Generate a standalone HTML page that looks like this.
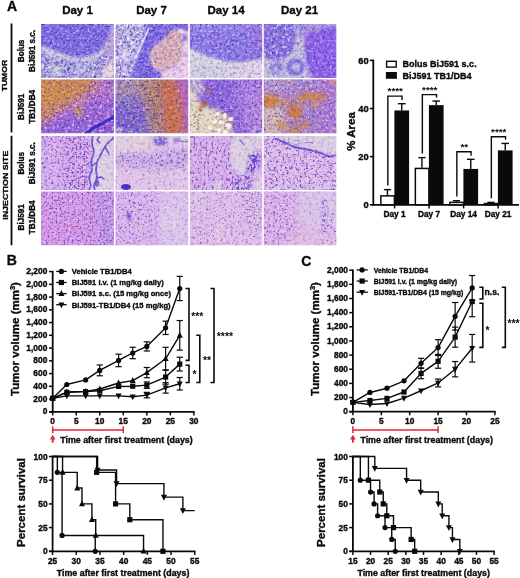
<!DOCTYPE html>
<html lang="en"><head><meta charset="utf-8"><title>Figure</title>
<style>html,body{margin:0;padding:0;background:#fff;}body{width:520px;height:578px;overflow:hidden;}svg{display:block;}text{font-family:'Liberation Sans', Arial, Helvetica, sans-serif;stroke:#0a0a0a;stroke-width:0.35px;stroke-linejoin:round;}text.st{stroke-width:0;}</style>
</head><body>
<svg width="520" height="578" viewBox="0 0 520 578">
<rect width="520" height="578" fill="#fff"/>
<defs><filter id="s0" x="-0.3" y="-0.3" width="1.6" height="1.6" color-interpolation-filters="sRGB"><feTurbulence type="fractalNoise" baseFrequency="0.26" numOctaves="2" seed="1" result="n"/><feColorMatrix in="n" type="matrix" values="0 0 0 0 0.894  0 0 0 0 0.910  0 0 0 0 0.918  6.0 0 0 0 -3.252" result="s"/><feGaussianBlur in="SourceAlpha" stdDeviation="0.1" result="m"/><feComposite in="s" in2="m" operator="in"/></filter><filter id="s1" x="-0.3" y="-0.3" width="1.6" height="1.6" color-interpolation-filters="sRGB"><feTurbulence type="fractalNoise" baseFrequency="0.34" numOctaves="2" seed="21" result="n"/><feColorMatrix in="n" type="matrix" values="0 0 0 0 0.463  0 0 0 0 0.392  0 0 0 0 0.816  6.0 0 0 0 -3.101" result="s"/><feGaussianBlur in="SourceAlpha" stdDeviation="0.1" result="m"/><feComposite in="s" in2="m" operator="in"/></filter><filter id="s2" x="-0.3" y="-0.3" width="1.6" height="1.6" color-interpolation-filters="sRGB"><feTurbulence type="fractalNoise" baseFrequency="0.5" numOctaves="2" seed="23" result="n"/><feColorMatrix in="n" type="matrix" values="0 0 0 0 0.290  0 0 0 0 0.235  0 0 0 0 0.596  6.0 0 0 0 -3.756" result="s"/><feGaussianBlur in="SourceAlpha" stdDeviation="0.1" result="m"/><feComposite in="s" in2="m" operator="in"/></filter><filter id="b3" x="-0.5" y="-0.5" width="2" height="2" color-interpolation-filters="sRGB"><feGaussianBlur stdDeviation="2"/></filter><filter id="b4" x="-0.5" y="-0.5" width="2" height="2" color-interpolation-filters="sRGB"><feGaussianBlur stdDeviation="2.2"/></filter><filter id="b5" x="-0.5" y="-0.5" width="2" height="2" color-interpolation-filters="sRGB"><feGaussianBlur stdDeviation="1.2"/></filter><filter id="b6" x="-0.5" y="-0.5" width="2" height="2" color-interpolation-filters="sRGB"><feGaussianBlur stdDeviation="1.0"/></filter><filter id="s7" x="-0.3" y="-0.3" width="1.6" height="1.6" color-interpolation-filters="sRGB"><feTurbulence type="fractalNoise" baseFrequency="0.5" numOctaves="2" seed="8" result="n"/><feColorMatrix in="n" type="matrix" values="0 0 0 0 0.314  0 0 0 0 0.220  0 0 0 0 0.722  6.0 0 0 0 -3.353" result="s"/><feGaussianBlur in="SourceAlpha" stdDeviation="0.8" result="m"/><feComposite in="s" in2="m" operator="in"/></filter><filter id="s8" x="-0.3" y="-0.3" width="1.6" height="1.6" color-interpolation-filters="sRGB"><feTurbulence type="fractalNoise" baseFrequency="0.4" numOctaves="2" seed="10" result="n"/><feColorMatrix in="n" type="matrix" values="0 0 0 0 0.643  0 0 0 0 0.580  0 0 0 0 0.973  6.0 0 0 0 -3.353" result="s"/><feGaussianBlur in="SourceAlpha" stdDeviation="0.8" result="m"/><feComposite in="s" in2="m" operator="in"/></filter><filter id="s9" x="-0.3" y="-0.3" width="1.6" height="1.6" color-interpolation-filters="sRGB"><feTurbulence type="fractalNoise" baseFrequency="0.26" numOctaves="2" seed="2" result="n"/><feColorMatrix in="n" type="matrix" values="0 0 0 0 0.933  0 0 0 0 0.929  0 0 0 0 0.984  6.0 0 0 0 -3.202" result="s"/><feGaussianBlur in="SourceAlpha" stdDeviation="0.1" result="m"/><feComposite in="s" in2="m" operator="in"/></filter><filter id="s10" x="-0.3" y="-0.3" width="1.6" height="1.6" color-interpolation-filters="sRGB"><feTurbulence type="fractalNoise" baseFrequency="0.36" numOctaves="2" seed="22" result="n"/><feColorMatrix in="n" type="matrix" values="0 0 0 0 0.455  0 0 0 0 0.392  0 0 0 0 0.784  6.0 0 0 0 -3.252" result="s"/><feGaussianBlur in="SourceAlpha" stdDeviation="0.1" result="m"/><feComposite in="s" in2="m" operator="in"/></filter><filter id="s11" x="-0.3" y="-0.3" width="1.6" height="1.6" color-interpolation-filters="sRGB"><feTurbulence type="fractalNoise" baseFrequency="0.5" numOctaves="2" seed="24" result="n"/><feColorMatrix in="n" type="matrix" values="0 0 0 0 0.282  0 0 0 0 0.220  0 0 0 0 0.565  6.0 0 0 0 -3.806" result="s"/><feGaussianBlur in="SourceAlpha" stdDeviation="0.1" result="m"/><feComposite in="s" in2="m" operator="in"/></filter><filter id="s12" x="-0.3" y="-0.3" width="1.6" height="1.6" color-interpolation-filters="sRGB"><feTurbulence type="fractalNoise" baseFrequency="0.5" numOctaves="2" seed="5" result="n"/><feColorMatrix in="n" type="matrix" values="0 0 0 0 0.314  0 0 0 0 0.220  0 0 0 0 0.722  6.0 0 0 0 -3.353" result="s"/><feGaussianBlur in="SourceAlpha" stdDeviation="0.8" result="m"/><feComposite in="s" in2="m" operator="in"/></filter><filter id="s13" x="-0.3" y="-0.3" width="1.6" height="1.6" color-interpolation-filters="sRGB"><feTurbulence type="fractalNoise" baseFrequency="0.4" numOctaves="2" seed="6" result="n"/><feColorMatrix in="n" type="matrix" values="0 0 0 0 0.627  0 0 0 0 0.565  0 0 0 0 0.957  6.0 0 0 0 -3.428" result="s"/><feGaussianBlur in="SourceAlpha" stdDeviation="0.8" result="m"/><feComposite in="s" in2="m" operator="in"/></filter><filter id="b14" x="-0.5" y="-0.5" width="2" height="2" color-interpolation-filters="sRGB"><feGaussianBlur stdDeviation="0.7"/></filter><filter id="b15" x="-0.5" y="-0.5" width="2" height="2" color-interpolation-filters="sRGB"><feGaussianBlur stdDeviation="1.4"/></filter><filter id="s16" x="-0.3" y="-0.3" width="1.6" height="1.6" color-interpolation-filters="sRGB"><feTurbulence type="fractalNoise" baseFrequency="0.4" numOctaves="2" seed="7" result="n"/><feColorMatrix in="n" type="matrix" values="0 0 0 0 0.722  0 0 0 0 0.549  0 0 0 0 0.580  6.0 0 0 0 -3.302" result="s"/><feGaussianBlur in="SourceAlpha" stdDeviation="1" result="m"/><feComposite in="s" in2="m" operator="in"/></filter><filter id="s17" x="-0.3" y="-0.3" width="1.6" height="1.6" color-interpolation-filters="sRGB"><feTurbulence type="fractalNoise" baseFrequency="0.4" numOctaves="2" seed="8" result="n"/><feColorMatrix in="n" type="matrix" values="0 0 0 0 0.941  0 0 0 0 0.816  0 0 0 0 0.863  6.0 0 0 0 -3.630" result="s"/><feGaussianBlur in="SourceAlpha" stdDeviation="1" result="m"/><feComposite in="s" in2="m" operator="in"/></filter><filter id="b18" x="-0.5" y="-0.5" width="2" height="2" color-interpolation-filters="sRGB"><feGaussianBlur stdDeviation="0.8"/></filter><filter id="b19" x="-0.5" y="-0.5" width="2" height="2" color-interpolation-filters="sRGB"><feGaussianBlur stdDeviation="4"/></filter><filter id="s20" x="-0.3" y="-0.3" width="1.6" height="1.6" color-interpolation-filters="sRGB"><feTurbulence type="fractalNoise" baseFrequency="0.4" numOctaves="2" seed="3" result="n"/><feColorMatrix in="n" type="matrix" values="0 0 0 0 0.659  0 0 0 0 0.627  0 0 0 0 0.816  6.0 0 0 0 -3.655" result="s"/><feGaussianBlur in="SourceAlpha" stdDeviation="0.5" result="m"/><feComposite in="s" in2="m" operator="in"/></filter><filter id="b21" x="-0.5" y="-0.5" width="2" height="2" color-interpolation-filters="sRGB"><feGaussianBlur stdDeviation="5"/></filter><filter id="s22" x="-0.3" y="-0.3" width="1.6" height="1.6" color-interpolation-filters="sRGB"><feTurbulence type="fractalNoise" baseFrequency="0.5" numOctaves="2" seed="6" result="n"/><feColorMatrix in="n" type="matrix" values="0 0 0 0 0.384  0 0 0 0 0.282  0 0 0 0 0.784  6.0 0 0 0 -3.353" result="s"/><feGaussianBlur in="SourceAlpha" stdDeviation="0.8" result="m"/><feComposite in="s" in2="m" operator="in"/></filter><filter id="s23" x="-0.3" y="-0.3" width="1.6" height="1.6" color-interpolation-filters="sRGB"><feTurbulence type="fractalNoise" baseFrequency="0.4" numOctaves="2" seed="8" result="n"/><feColorMatrix in="n" type="matrix" values="0 0 0 0 0.706  0 0 0 0 0.643  0 0 0 0 0.988  6.0 0 0 0 -3.353" result="s"/><feGaussianBlur in="SourceAlpha" stdDeviation="0.8" result="m"/><feComposite in="s" in2="m" operator="in"/></filter><filter id="s24" x="-0.3" y="-0.3" width="1.6" height="1.6" color-interpolation-filters="sRGB"><feTurbulence type="fractalNoise" baseFrequency="0.4" numOctaves="2" seed="4" result="n"/><feColorMatrix in="n" type="matrix" values="0 0 0 0 0.533  0 0 0 0 0.471  0 0 0 0 0.831  6.0 0 0 0 -3.504" result="s"/><feGaussianBlur in="SourceAlpha" stdDeviation="0.1" result="m"/><feComposite in="s" in2="m" operator="in"/></filter><filter id="s25" x="-0.3" y="-0.3" width="1.6" height="1.6" color-interpolation-filters="sRGB"><feTurbulence type="fractalNoise" baseFrequency="0.45" numOctaves="2" seed="6" result="n"/><feColorMatrix in="n" type="matrix" values="0 0 0 0 0.471  0 0 0 0 0.400  0 0 0 0 0.839  6.0 0 0 0 -3.252" result="s"/><feGaussianBlur in="SourceAlpha" stdDeviation="0.8" result="m"/><feComposite in="s" in2="m" operator="in"/></filter><filter id="b26" x="-0.5" y="-0.5" width="2" height="2" color-interpolation-filters="sRGB"><feGaussianBlur stdDeviation="1.5"/></filter><filter id="s27" x="-0.3" y="-0.3" width="1.6" height="1.6" color-interpolation-filters="sRGB"><feTurbulence type="fractalNoise" baseFrequency="0.33" numOctaves="2" seed="8" result="n"/><feColorMatrix in="n" type="matrix" values="0 0 0 0 0.800  0 0 0 0 0.776  0 0 0 0 0.918  6.0 0 0 0 -3.302" result="s"/><feGaussianBlur in="SourceAlpha" stdDeviation="0.8" result="m"/><feComposite in="s" in2="m" operator="in"/></filter><filter id="s28" x="-0.3" y="-0.3" width="1.6" height="1.6" color-interpolation-filters="sRGB"><feTurbulence type="fractalNoise" baseFrequency="0.5" numOctaves="2" seed="10" result="n"/><feColorMatrix in="n" type="matrix" values="0 0 0 0 0.361  0 0 0 0 0.267  0 0 0 0 0.784  6.0 0 0 0 -3.403" result="s"/><feGaussianBlur in="SourceAlpha" stdDeviation="0.8" result="m"/><feComposite in="s" in2="m" operator="in"/></filter><filter id="s29" x="-0.3" y="-0.3" width="1.6" height="1.6" color-interpolation-filters="sRGB"><feTurbulence type="fractalNoise" baseFrequency="0.5" numOctaves="2" seed="12" result="n"/><feColorMatrix in="n" type="matrix" values="0 0 0 0 0.376  0 0 0 0 0.220  0 0 0 0 0.816  6.0 0 0 0 -3.353" result="s"/><feGaussianBlur in="SourceAlpha" stdDeviation="0.8" result="m"/><feComposite in="s" in2="m" operator="in"/></filter><filter id="s30" x="-0.3" y="-0.3" width="1.6" height="1.6" color-interpolation-filters="sRGB"><feTurbulence type="fractalNoise" baseFrequency="0.4" numOctaves="2" seed="14" result="n"/><feColorMatrix in="n" type="matrix" values="0 0 0 0 0.706  0 0 0 0 0.549  0 0 0 0 0.980  6.0 0 0 0 -3.403" result="s"/><feGaussianBlur in="SourceAlpha" stdDeviation="0.8" result="m"/><feComposite in="s" in2="m" operator="in"/></filter><filter id="b31" x="-0.5" y="-0.5" width="2" height="2" color-interpolation-filters="sRGB"><feGaussianBlur stdDeviation="3"/></filter><filter id="s32" x="-0.3" y="-0.3" width="1.6" height="1.6" color-interpolation-filters="sRGB"><feTurbulence type="fractalNoise" baseFrequency="0.4" numOctaves="2" seed="8" result="n"/><feColorMatrix in="n" type="matrix" values="0 0 0 0 0.910  0 0 0 0 0.659  0 0 0 0 0.659  6.0 0 0 0 -3.504" result="s"/><feGaussianBlur in="SourceAlpha" stdDeviation="1.5" result="m"/><feComposite in="s" in2="m" operator="in"/></filter><filter id="s33" x="-0.3" y="-0.3" width="1.6" height="1.6" color-interpolation-filters="sRGB"><feTurbulence type="fractalNoise" baseFrequency="0.45" numOctaves="2" seed="9" result="n"/><feColorMatrix in="n" type="matrix" values="0 0 0 0 0.659  0 0 0 0 0.408  0 0 0 0 0.157  6.0 0 0 0 -3.428" result="s"/><feGaussianBlur in="SourceAlpha" stdDeviation="1.5" result="m"/><feComposite in="s" in2="m" operator="in"/></filter><filter id="s34" x="-0.3" y="-0.3" width="1.6" height="1.6" color-interpolation-filters="sRGB"><feTurbulence type="fractalNoise" baseFrequency="0.45" numOctaves="2" seed="10" result="n"/><feColorMatrix in="n" type="matrix" values="0 0 0 0 0.416  0 0 0 0 0.259  0 0 0 0 0.722  6.0 0 0 0 -3.353" result="s"/><feGaussianBlur in="SourceAlpha" stdDeviation="2" result="m"/><feComposite in="s" in2="m" operator="in"/></filter><filter id="s35" x="-0.3" y="-0.3" width="1.6" height="1.6" color-interpolation-filters="sRGB"><feTurbulence type="fractalNoise" baseFrequency="0.4" numOctaves="2" seed="13" result="n"/><feColorMatrix in="n" type="matrix" values="0 0 0 0 0.878  0 0 0 0 0.690  0 0 0 0 0.933  6.0 0 0 0 -3.353" result="s"/><feGaussianBlur in="SourceAlpha" stdDeviation="2" result="m"/><feComposite in="s" in2="m" operator="in"/></filter><filter id="b36" x="-0.5" y="-0.5" width="2" height="2" color-interpolation-filters="sRGB"><feGaussianBlur stdDeviation="3.5"/></filter><filter id="s37" x="-0.3" y="-0.3" width="1.6" height="1.6" color-interpolation-filters="sRGB"><feTurbulence type="fractalNoise" baseFrequency="0.42" numOctaves="2" seed="9" result="n"/><feColorMatrix in="n" type="matrix" values="0 0 0 0 0.753  0 0 0 0 0.627  0 0 0 0 0.439  6.0 0 0 0 -3.428" result="s"/><feGaussianBlur in="SourceAlpha" stdDeviation="2" result="m"/><feComposite in="s" in2="m" operator="in"/></filter><filter id="s38" x="-0.3" y="-0.3" width="1.6" height="1.6" color-interpolation-filters="sRGB"><feTurbulence type="fractalNoise" baseFrequency="0.45" numOctaves="2" seed="11" result="n"/><feColorMatrix in="n" type="matrix" values="0 0 0 0 0.345  0 0 0 0 0.251  0 0 0 0 0.643  6.0 0 0 0 -3.428" result="s"/><feGaussianBlur in="SourceAlpha" stdDeviation="2" result="m"/><feComposite in="s" in2="m" operator="in"/></filter><filter id="s39" x="-0.3" y="-0.3" width="1.6" height="1.6" color-interpolation-filters="sRGB"><feTurbulence type="fractalNoise" baseFrequency="0.4" numOctaves="2" seed="12" result="n"/><feColorMatrix in="n" type="matrix" values="0 0 0 0 0.737  0 0 0 0 0.651  0 0 0 0 0.894  6.0 0 0 0 -3.504" result="s"/><feGaussianBlur in="SourceAlpha" stdDeviation="2" result="m"/><feComposite in="s" in2="m" operator="in"/></filter><filter id="s40" x="-0.3" y="-0.3" width="1.6" height="1.6" color-interpolation-filters="sRGB"><feTurbulence type="fractalNoise" baseFrequency="0.42" numOctaves="2" seed="13" result="n"/><feColorMatrix in="n" type="matrix" values="0 0 0 0 0.722  0 0 0 0 0.376  0 0 0 0 0.659  6.0 0 0 0 -3.504" result="s"/><feGaussianBlur in="SourceAlpha" stdDeviation="2" result="m"/><feComposite in="s" in2="m" operator="in"/></filter><filter id="s41" x="-0.3" y="-0.3" width="1.6" height="1.6" color-interpolation-filters="sRGB"><feTurbulence type="fractalNoise" baseFrequency="0.36" numOctaves="2" seed="15" result="n"/><feColorMatrix in="n" type="matrix" values="0 0 0 0 0.847  0 0 0 0 0.471  0 0 0 0 0.282  6.0 0 0 0 -3.428" result="s"/><feGaussianBlur in="SourceAlpha" stdDeviation="2" result="m"/><feComposite in="s" in2="m" operator="in"/></filter><filter id="s42" x="-0.3" y="-0.3" width="1.6" height="1.6" color-interpolation-filters="sRGB"><feTurbulence type="fractalNoise" baseFrequency="0.4" numOctaves="2" seed="16" result="n"/><feColorMatrix in="n" type="matrix" values="0 0 0 0 0.878  0 0 0 0 0.627  0 0 0 0 0.627  6.0 0 0 0 -3.706" result="s"/><feGaussianBlur in="SourceAlpha" stdDeviation="2" result="m"/><feComposite in="s" in2="m" operator="in"/></filter><filter id="s43" x="-0.3" y="-0.3" width="1.6" height="1.6" color-interpolation-filters="sRGB"><feTurbulence type="fractalNoise" baseFrequency="0.45" numOctaves="2" seed="18" result="n"/><feColorMatrix in="n" type="matrix" values="0 0 0 0 0.627  0 0 0 0 0.361  0 0 0 0 0.157  6.0 0 0 0 -3.504" result="s"/><feGaussianBlur in="SourceAlpha" stdDeviation="3" result="m"/><feComposite in="s" in2="m" operator="in"/></filter><filter id="b44" x="-0.5" y="-0.5" width="2" height="2" color-interpolation-filters="sRGB"><feGaussianBlur stdDeviation="6"/></filter><filter id="s45" x="-0.3" y="-0.3" width="1.6" height="1.6" color-interpolation-filters="sRGB"><feTurbulence type="fractalNoise" baseFrequency="0.46" numOctaves="2" seed="10" result="n"/><feColorMatrix in="n" type="matrix" values="0 0 0 0 0.376  0 0 0 0 0.251  0 0 0 0 0.753  6.0 0 0 0 -3.403" result="s"/><feGaussianBlur in="SourceAlpha" stdDeviation="0.1" result="m"/><feComposite in="s" in2="m" operator="in"/></filter><filter id="s46" x="-0.3" y="-0.3" width="1.6" height="1.6" color-interpolation-filters="sRGB"><feTurbulence type="fractalNoise" baseFrequency="0.4" numOctaves="2" seed="12" result="n"/><feColorMatrix in="n" type="matrix" values="0 0 0 0 0.769  0 0 0 0 0.643  0 0 0 0 0.949  6.0 0 0 0 -3.428" result="s"/><feGaussianBlur in="SourceAlpha" stdDeviation="0.1" result="m"/><feComposite in="s" in2="m" operator="in"/></filter><filter id="s47" x="-0.3" y="-0.3" width="1.6" height="1.6" color-interpolation-filters="sRGB"><feTurbulence type="fractalNoise" baseFrequency="0.4" numOctaves="2" seed="13" result="n"/><feColorMatrix in="n" type="matrix" values="0 0 0 0 0.894  0 0 0 0 0.643  0 0 0 0 0.769  6.0 0 0 0 -3.706" result="s"/><feGaussianBlur in="SourceAlpha" stdDeviation="2" result="m"/><feComposite in="s" in2="m" operator="in"/></filter><filter id="b48" x="-0.5" y="-0.5" width="2" height="2" color-interpolation-filters="sRGB"><feGaussianBlur stdDeviation="0.6"/></filter><filter id="s49" x="-0.3" y="-0.3" width="1.6" height="1.6" color-interpolation-filters="sRGB"><feTurbulence type="fractalNoise" baseFrequency="0.42" numOctaves="2" seed="16" result="n"/><feColorMatrix in="n" type="matrix" values="0 0 0 0 0.659  0 0 0 0 0.580  0 0 0 0 0.424  6.0 0 0 0 -3.504" result="s"/><feGaussianBlur in="SourceAlpha" stdDeviation="1.5" result="m"/><feComposite in="s" in2="m" operator="in"/></filter><filter id="s50" x="-0.3" y="-0.3" width="1.6" height="1.6" color-interpolation-filters="sRGB"><feTurbulence type="fractalNoise" baseFrequency="0.45" numOctaves="2" seed="11" result="n"/><feColorMatrix in="n" type="matrix" values="0 0 0 0 0.455  0 0 0 0 0.314  0 0 0 0 0.769  6.0 0 0 0 -3.428" result="s"/><feGaussianBlur in="SourceAlpha" stdDeviation="0.1" result="m"/><feComposite in="s" in2="m" operator="in"/></filter><filter id="s51" x="-0.3" y="-0.3" width="1.6" height="1.6" color-interpolation-filters="sRGB"><feTurbulence type="fractalNoise" baseFrequency="0.4" numOctaves="2" seed="13" result="n"/><feColorMatrix in="n" type="matrix" values="0 0 0 0 0.863  0 0 0 0 0.737  0 0 0 0 0.894  6.0 0 0 0 -3.428" result="s"/><feGaussianBlur in="SourceAlpha" stdDeviation="0.1" result="m"/><feComposite in="s" in2="m" operator="in"/></filter><filter id="b52" x="-0.5" y="-0.5" width="2" height="2" color-interpolation-filters="sRGB"><feGaussianBlur stdDeviation="2.5"/></filter><filter id="s53" x="-0.3" y="-0.3" width="1.6" height="1.6" color-interpolation-filters="sRGB"><feTurbulence type="fractalNoise" baseFrequency="0.3" numOctaves="2" seed="17" result="n"/><feColorMatrix in="n" type="matrix" values="0 0 0 0 0.847  0 0 0 0 0.596  0 0 0 0 0.345  6.0 0 0 0 -3.655" result="s"/><feGaussianBlur in="SourceAlpha" stdDeviation="0.1" result="m"/><feComposite in="s" in2="m" operator="in"/></filter><filter id="s54" x="-0.3" y="-0.3" width="1.6" height="1.6" color-interpolation-filters="sRGB"><feTurbulence type="fractalNoise" baseFrequency="0.45" numOctaves="2" seed="12" result="n"/><feColorMatrix in="n" type="matrix" values="0 0 0 0 0.541  0 0 0 0 0.361  0 0 0 0 0.753  6.0 0 0 0 -3.353" result="s"/><feGaussianBlur in="SourceAlpha" stdDeviation="1" result="m"/><feComposite in="s" in2="m" operator="in"/></filter><filter id="s55" x="-0.3" y="-0.3" width="1.6" height="1.6" color-interpolation-filters="sRGB"><feTurbulence type="fractalNoise" baseFrequency="0.5" numOctaves="2" seed="15" result="n"/><feColorMatrix in="n" type="matrix" values="0 0 0 0 0.502  0 0 0 0 0.282  0 0 0 0 0.769  6.0 0 0 0 -3.202" result="s"/><feGaussianBlur in="SourceAlpha" stdDeviation="3" result="m"/><feComposite in="s" in2="m" operator="in"/></filter><filter id="b56" x="-0.5" y="-0.5" width="2" height="2" color-interpolation-filters="sRGB"><feGaussianBlur stdDeviation="0.5"/></filter><filter id="s57" x="-0.3" y="-0.3" width="1.6" height="1.6" color-interpolation-filters="sRGB"><feTurbulence type="fractalNoise" baseFrequency="0.45" numOctaves="2" seed="13" result="n"/><feColorMatrix in="n" type="matrix" values="0 0 0 0 0.518  0 0 0 0 0.322  0 0 0 0 0.784  6.0 0 0 0 -3.353" result="s"/><feGaussianBlur in="SourceAlpha" stdDeviation="1.5" result="m"/><feComposite in="s" in2="m" operator="in"/></filter><filter id="s58" x="-0.3" y="-0.3" width="1.6" height="1.6" color-interpolation-filters="sRGB"><feTurbulence type="fractalNoise" baseFrequency="0.42" numOctaves="2" seed="15" result="n"/><feColorMatrix in="n" type="matrix" values="0 0 0 0 0.596  0 0 0 0 0.471  0 0 0 0 0.839  6.0 0 0 0 -3.907" result="s"/><feGaussianBlur in="SourceAlpha" stdDeviation="1" result="m"/><feComposite in="s" in2="m" operator="in"/></filter><filter id="s59" x="-0.3" y="-0.3" width="1.6" height="1.6" color-interpolation-filters="sRGB"><feTurbulence type="fractalNoise" baseFrequency="0.4" numOctaves="2" seed="17" result="n"/><feColorMatrix in="n" type="matrix" values="0 0 0 0 0.863  0 0 0 0 0.831  0 0 0 0 0.925  6.0 0 0 0 -3.378" result="s"/><feGaussianBlur in="SourceAlpha" stdDeviation="0.5" result="m"/><feComposite in="s" in2="m" operator="in"/></filter><filter id="s60" x="-0.3" y="-0.3" width="1.6" height="1.6" color-interpolation-filters="sRGB"><feTurbulence type="fractalNoise" baseFrequency="0.5 0.28" numOctaves="2" seed="14" result="n"/><feColorMatrix in="n" type="matrix" values="0 0 0 0 0.525  0 0 0 0 0.314  0 0 0 0 0.776  6.0 0 0 0 -3.252" result="s"/><feGaussianBlur in="SourceAlpha" stdDeviation="1.5" result="m"/><feComposite in="s" in2="m" operator="in"/></filter><filter id="b61" x="-0.5" y="-0.5" width="2" height="2" color-interpolation-filters="sRGB"><feGaussianBlur stdDeviation="1.8"/></filter><filter id="s62" x="-0.3" y="-0.3" width="1.6" height="1.6" color-interpolation-filters="sRGB"><feTurbulence type="fractalNoise" baseFrequency="0.4" numOctaves="2" seed="22" result="n"/><feColorMatrix in="n" type="matrix" values="0 0 0 0 0.416  0 0 0 0 0.267  0 0 0 0 0.816  6.0 0 0 0 -2.698" result="s"/><feGaussianBlur in="SourceAlpha" stdDeviation="1.2" result="m"/><feComposite in="s" in2="m" operator="in"/></filter><filter id="s63" x="-0.3" y="-0.3" width="1.6" height="1.6" color-interpolation-filters="sRGB"><feTurbulence type="fractalNoise" baseFrequency="0.4" numOctaves="2" seed="23" result="n"/><feColorMatrix in="n" type="matrix" values="0 0 0 0 0.455  0 0 0 0 0.314  0 0 0 0 0.824  6.0 0 0 0 -2.698" result="s"/><feGaussianBlur in="SourceAlpha" stdDeviation="1.5" result="m"/><feComposite in="s" in2="m" operator="in"/></filter><filter id="s64" x="-0.3" y="-0.3" width="1.6" height="1.6" color-interpolation-filters="sRGB"><feTurbulence type="fractalNoise" baseFrequency="0.4" numOctaves="2" seed="18" result="n"/><feColorMatrix in="n" type="matrix" values="0 0 0 0 0.863  0 0 0 0 0.812  0 0 0 0 0.894  6.0 0 0 0 -3.378" result="s"/><feGaussianBlur in="SourceAlpha" stdDeviation="1" result="m"/><feComposite in="s" in2="m" operator="in"/></filter><filter id="b65" x="-0.5" y="-0.5" width="2" height="2" color-interpolation-filters="sRGB"><feGaussianBlur stdDeviation="0.4"/></filter><filter id="s66" x="-0.3" y="-0.3" width="1.6" height="1.6" color-interpolation-filters="sRGB"><feTurbulence type="fractalNoise" baseFrequency="0.46" numOctaves="2" seed="15" result="n"/><feColorMatrix in="n" type="matrix" values="0 0 0 0 0.533  0 0 0 0 0.314  0 0 0 0 0.776  6.0 0 0 0 -3.202" result="s"/><feGaussianBlur in="SourceAlpha" stdDeviation="0.1" result="m"/><feComposite in="s" in2="m" operator="in"/></filter><filter id="s67" x="-0.3" y="-0.3" width="1.6" height="1.6" color-interpolation-filters="sRGB"><feTurbulence type="fractalNoise" baseFrequency="0.4" numOctaves="2" seed="17" result="n"/><feColorMatrix in="n" type="matrix" values="0 0 0 0 0.925  0 0 0 0 0.847  0 0 0 0 0.941  6.0 0 0 0 -3.630" result="s"/><feGaussianBlur in="SourceAlpha" stdDeviation="0.1" result="m"/><feComposite in="s" in2="m" operator="in"/></filter><filter id="s68" x="-0.3" y="-0.3" width="1.6" height="1.6" color-interpolation-filters="sRGB"><feTurbulence type="fractalNoise" baseFrequency="0.5" numOctaves="2" seed="20" result="n"/><feColorMatrix in="n" type="matrix" values="0 0 0 0 0.431  0 0 0 0 0.298  0 0 0 0 0.824  6.0 0 0 0 -3.504" result="s"/><feGaussianBlur in="SourceAlpha" stdDeviation="0.8" result="m"/><feComposite in="s" in2="m" operator="in"/></filter><filter id="s69" x="-0.3" y="-0.3" width="1.6" height="1.6" color-interpolation-filters="sRGB"><feTurbulence type="fractalNoise" baseFrequency="0.5" numOctaves="2" seed="16" result="n"/><feColorMatrix in="n" type="matrix" values="0 0 0 0 0.541  0 0 0 0 0.345  0 0 0 0 0.769  6.0 0 0 0 -3.151" result="s"/><feGaussianBlur in="SourceAlpha" stdDeviation="0.1" result="m"/><feComposite in="s" in2="m" operator="in"/></filter><filter id="s70" x="-0.3" y="-0.3" width="1.6" height="1.6" color-interpolation-filters="sRGB"><feTurbulence type="fractalNoise" baseFrequency="0.42" numOctaves="2" seed="18" result="n"/><feColorMatrix in="n" type="matrix" values="0 0 0 0 0.910  0 0 0 0 0.737  0 0 0 0 0.973  6.0 0 0 0 -3.630" result="s"/><feGaussianBlur in="SourceAlpha" stdDeviation="0.1" result="m"/><feComposite in="s" in2="m" operator="in"/></filter><filter id="s71" x="-0.3" y="-0.3" width="1.6" height="1.6" color-interpolation-filters="sRGB"><feTurbulence type="fractalNoise" baseFrequency="0.45" numOctaves="2" seed="17" result="n"/><feColorMatrix in="n" type="matrix" values="0 0 0 0 0.525  0 0 0 0 0.345  0 0 0 0 0.753  6.0 0 0 0 -3.454" result="s"/><feGaussianBlur in="SourceAlpha" stdDeviation="3" result="m"/><feComposite in="s" in2="m" operator="in"/></filter><filter id="s72" x="-0.3" y="-0.3" width="1.6" height="1.6" color-interpolation-filters="sRGB"><feTurbulence type="fractalNoise" baseFrequency="0.45" numOctaves="2" seed="19" result="n"/><feColorMatrix in="n" type="matrix" values="0 0 0 0 0.596  0 0 0 0 0.471  0 0 0 0 0.831  6.0 0 0 0 -3.958" result="s"/><feGaussianBlur in="SourceAlpha" stdDeviation="2" result="m"/><feComposite in="s" in2="m" operator="in"/></filter><filter id="s73" x="-0.3" y="-0.3" width="1.6" height="1.6" color-interpolation-filters="sRGB"><feTurbulence type="fractalNoise" baseFrequency="0.45" numOctaves="2" seed="18" result="n"/><feColorMatrix in="n" type="matrix" values="0 0 0 0 0.565  0 0 0 0 0.392  0 0 0 0 0.722  6.0 0 0 0 -3.655" result="s"/><feGaussianBlur in="SourceAlpha" stdDeviation="0.1" result="m"/><feComposite in="s" in2="m" operator="in"/></filter><filter id="s74" x="-0.3" y="-0.3" width="1.6" height="1.6" color-interpolation-filters="sRGB"><feTurbulence type="fractalNoise" baseFrequency="0.45" numOctaves="2" seed="20" result="n"/><feColorMatrix in="n" type="matrix" values="0 0 0 0 0.541  0 0 0 0 0.337  0 0 0 0 0.776  6.0 0 0 0 -3.504" result="s"/><feGaussianBlur in="SourceAlpha" stdDeviation="2" result="m"/><feComposite in="s" in2="m" operator="in"/></filter><filter id="s75" x="-0.3" y="-0.3" width="1.6" height="1.6" color-interpolation-filters="sRGB"><feTurbulence type="fractalNoise" baseFrequency="0.45" numOctaves="2" seed="19" result="n"/><feColorMatrix in="n" type="matrix" values="0 0 0 0 0.541  0 0 0 0 0.337  0 0 0 0 0.776  6.0 0 0 0 -3.353" result="s"/><feGaussianBlur in="SourceAlpha" stdDeviation="2.5" result="m"/><feComposite in="s" in2="m" operator="in"/></filter><filter id="s76" x="-0.3" y="-0.3" width="1.6" height="1.6" color-interpolation-filters="sRGB"><feTurbulence type="fractalNoise" baseFrequency="0.45" numOctaves="2" seed="22" result="n"/><feColorMatrix in="n" type="matrix" values="0 0 0 0 0.518  0 0 0 0 0.322  0 0 0 0 0.784  6.0 0 0 0 -3.000" result="s"/><feGaussianBlur in="SourceAlpha" stdDeviation="1" result="m"/><feComposite in="s" in2="m" operator="in"/></filter><filter id="s77" x="-0.3" y="-0.3" width="1.6" height="1.6" color-interpolation-filters="sRGB"><feTurbulence type="fractalNoise" baseFrequency="0.45" numOctaves="2" seed="24" result="n"/><feColorMatrix in="n" type="matrix" values="0 0 0 0 0.518  0 0 0 0 0.322  0 0 0 0 0.784  6.0 0 0 0 -3.630" result="s"/><feGaussianBlur in="SourceAlpha" stdDeviation="1.5" result="m"/><feComposite in="s" in2="m" operator="in"/></filter><clipPath id="call"><rect x="41" y="24" width="73.0" height="54.0"/><rect x="115.5" y="24" width="72.7" height="54.0"/><rect x="189.9" y="24" width="72.3" height="54.0"/><rect x="263.8" y="24" width="72.5" height="54.0"/><rect x="41" y="79.6" width="73.0" height="53.6"/><rect x="115.5" y="79.6" width="72.7" height="53.6"/><rect x="189.9" y="79.6" width="72.3" height="53.6"/><rect x="263.8" y="79.6" width="72.5" height="53.6"/><rect x="41" y="135.9" width="73.0" height="54.1"/><rect x="115.5" y="135.9" width="72.7" height="54.1"/><rect x="189.9" y="135.9" width="72.3" height="54.1"/><rect x="263.8" y="135.9" width="72.5" height="54.1"/><rect x="41" y="191.4" width="73.0" height="53.8"/><rect x="115.5" y="191.4" width="72.7" height="53.8"/><rect x="189.9" y="191.4" width="72.3" height="53.8"/><rect x="263.8" y="191.4" width="72.5" height="53.8"/></clipPath><filter id="motd" x="0" y="0" width="1" height="1" color-interpolation-filters="sRGB"><feTurbulence type="fractalNoise" baseFrequency="0.33" numOctaves="3" seed="11" result="n"/><feColorMatrix in="n" type="matrix" values="0 0 0 0 0.30  0 0 0 0 0.14  0 0 0 0 0.62  3.2 0 0 0 -1.6"/></filter><filter id="motp" x="0" y="0" width="1" height="1" color-interpolation-filters="sRGB"><feTurbulence type="fractalNoise" baseFrequency="0.33" numOctaves="3" seed="17" result="n"/><feColorMatrix in="n" type="matrix" values="0 0 0 0 0.52  0 0 0 0 0.26  0 0 0 0 0.72  3.2 0 0 0 -1.6"/></filter><filter id="motl" x="0" y="0" width="1" height="1" color-interpolation-filters="sRGB"><feTurbulence type="fractalNoise" baseFrequency="0.3" numOctaves="3" seed="29" result="n"/><feColorMatrix in="n" type="matrix" values="0 0 0 0 1  0 0 0 0 0.96  0 0 0 0 1  0 3.2 0 0 -1.6"/></filter></defs>
<clipPath id="c00"><rect x="41" y="24" width="73.0" height="54.0"/></clipPath>
<g clip-path="url(#c00)"><g filter="url(#b14)">
<rect x="38" y="21" width="79.0" height="60.0" fill="#b0a8e2"/>
<polygon points="39.0,22.0 116.0,22.0 116.0,80.0 39.0,80.0" fill="#000" filter="url(#s0)"/>
<polygon points="39.0,22.0 116.0,22.0 116.0,80.0 39.0,80.0" fill="#000" filter="url(#s1)"/>
<polygon points="39.0,22.0 116.0,22.0 116.0,80.0 39.0,80.0" fill="#000" filter="url(#s2)"/>
<ellipse cx="50.0" cy="53.0" rx="5" ry="3" fill="#e2e6ea" filter="url(#b3)" opacity="0.9" transform="rotate(20 50.0 53.0)"/>
<ellipse cx="56.0" cy="71.0" rx="4" ry="6" fill="#e0e8e2" filter="url(#b3)" opacity="0.9"/>
<ellipse cx="81.0" cy="70.0" rx="6" ry="3" fill="#dfe4ec" filter="url(#b3)" opacity="0.8"/>
<polygon points="104.0,67.0 109.0,62.0 116.0,60.0 116.0,80.0 101.0,80.0" fill="#e8d8e0" filter="url(#b4)"/>
<polygon points="107.0,22.0 116.0,22.0 116.0,56.0 110.0,58.0 105.0,52.0 109.0,38.0" fill="#c0a0e0" filter="url(#b3)"/>
<polyline points="39.0,47.0 49.0,50.0 59.0,55.0 71.0,59.0 85.0,60.0 96.0,57.0 103.0,51.0" fill="none" stroke="#d4d6ea" stroke-width="3.0" stroke-linecap="round" stroke-linejoin="round" filter="url(#b5)"/>
<polygon points="38.0,21.0 112.0,21.0 109.5,32.0 105.0,42.0 98.0,50.0 89.0,55.0 79.0,56.5 68.0,54.5 56.0,50.0 47.0,46.5 38.0,44.0" fill="#7c68e0" filter="url(#b6)"/>
<polygon points="38.0,21.0 112.0,21.0 109.5,32.0 105.0,42.0 98.0,50.0 89.0,55.0 79.0,56.5 68.0,54.5 56.0,50.0 47.0,46.5 38.0,44.0" fill="#000" filter="url(#s7)"/>
<polygon points="38.0,21.0 112.0,21.0 109.5,32.0 105.0,42.0 98.0,50.0 89.0,55.0 79.0,56.5 68.0,54.5 56.0,50.0 47.0,46.5 38.0,44.0" fill="#000" filter="url(#s8)"/>
</g></g>
<clipPath id="c01"><rect x="115.5" y="24" width="72.7" height="54.0"/></clipPath>
<g clip-path="url(#c01)"><g filter="url(#b14)">
<rect x="112.5" y="21" width="78.7" height="60.0" fill="#bcb4e6"/>
<polygon points="113.5,22.0 190.5,22.0 190.5,80.0 113.5,80.0" fill="#000" filter="url(#s9)"/>
<polygon points="113.5,22.0 190.5,22.0 190.5,80.0 113.5,80.0" fill="#000" filter="url(#s10)"/>
<polygon points="113.5,22.0 190.5,22.0 190.5,80.0 113.5,80.0" fill="#000" filter="url(#s11)"/>
<ellipse cx="124.5" cy="55.0" rx="3.5" ry="7" fill="#eae8f2" filter="url(#b3)" opacity="0.95" transform="rotate(8 124.5 55.0)"/>
<polygon points="175.5,28.0 190.5,24.0 190.5,80.0 159.5,80.0 161.5,71.0 175.5,66.0 181.5,52.0" fill="#efcfec" filter="url(#b3)"/>
<polygon points="148.5,21.0 190.5,21.0 190.5,30.0 177.5,28.0 167.5,36.0 153.5,46.0 149.5,58.0 153.5,68.0 161.5,73.0 159.5,81.0 128.5,81.0 135.5,64.0 140.5,50.0 144.5,34.0" fill="#7a66e0" filter="url(#b5)"/>
<polygon points="148.5,21.0 190.5,21.0 190.5,30.0 177.5,28.0 167.5,36.0 153.5,46.0 149.5,58.0 153.5,68.0 161.5,73.0 159.5,81.0 128.5,81.0 135.5,64.0 140.5,50.0 144.5,34.0" fill="#000" filter="url(#s12)"/>
<polygon points="148.5,21.0 190.5,21.0 190.5,30.0 177.5,28.0 167.5,36.0 153.5,46.0 149.5,58.0 153.5,68.0 161.5,73.0 159.5,81.0 128.5,81.0 135.5,64.0 140.5,50.0 144.5,34.0" fill="#000" filter="url(#s13)"/>
<polyline points="148.5,29.0 143.5,40.0 139.5,49.0 135.5,58.0" fill="none" stroke="#eceaf6" stroke-width="1.6" stroke-linecap="round" stroke-linejoin="round" filter="url(#b14)"/>
<polygon points="171.5,30.0 177.5,31.0 182.5,36.0 182.5,52.0 177.5,65.0 167.5,70.0 157.5,70.0 150.5,63.0 149.5,53.0 156.5,46.0 165.5,39.0" fill="#dab0ba" filter="url(#b15)"/>
<polygon points="171.5,30.0 177.5,31.0 182.5,36.0 182.5,52.0 177.5,65.0 167.5,70.0 157.5,70.0 150.5,63.0 149.5,53.0 156.5,46.0 165.5,39.0" fill="#000" filter="url(#s16)"/>
<polygon points="171.5,30.0 177.5,31.0 182.5,36.0 182.5,52.0 177.5,65.0 167.5,70.0 157.5,70.0 150.5,63.0 149.5,53.0 156.5,46.0 165.5,39.0" fill="#000" filter="url(#s17)"/>
<ellipse cx="185.0" cy="38.0" rx="2.2" ry="3.5" fill="#8270d8" filter="url(#b6)"/>
<ellipse cx="186.5" cy="28.0" rx="3" ry="3" fill="#8270d8" filter="url(#b6)"/>
<ellipse cx="179.5" cy="70.0" rx="1.2" ry="1.2" fill="#9a80d8" filter="url(#b18)"/>
<ellipse cx="185.5" cy="55.0" rx="1.4" ry="1.8" fill="#9a80d8" filter="url(#b18)"/>
</g></g>
<clipPath id="c02"><rect x="189.9" y="24" width="72.3" height="54.0"/></clipPath>
<g clip-path="url(#c02)"><g filter="url(#b14)">
<rect x="186.9" y="21" width="78.3" height="60.0" fill="#dcdde4"/>
<polygon points="186.9,54.0 219.9,64.0 229.9,81.0 186.9,81.0" fill="#d2d3e2" filter="url(#b19)"/>
<polygon points="234.9,69.0 265.9,60.0 265.9,81.0 234.9,81.0" fill="#e2d2ea" filter="url(#b19)"/>
<polygon points="186.9,50.0 265.9,54.0 265.9,81.0 186.9,81.0" fill="#000" filter="url(#s20)"/>
<polygon points="186.9,21.0 265.9,21.0 265.9,57.5 253.9,60.0 243.9,61.5 231.9,62.5 219.9,59.5 205.9,55.5 195.9,50.5 186.9,47.0" fill="#8876e4" filter="url(#b5)"/>
<polygon points="186.9,21.0 265.9,21.0 265.9,29.0 229.9,32.0 186.9,30.0" fill="#a090e4" filter="url(#b19)" opacity="0.8"/>
<polygon points="251.9,24.0 265.9,24.0 265.9,54.0 253.9,54.0" fill="#a070dc" filter="url(#b21)" opacity="0.7"/>
<polygon points="186.9,21.0 265.9,21.0 265.9,57.5 253.9,60.0 243.9,61.5 231.9,62.5 219.9,59.5 205.9,55.5 195.9,50.5 186.9,47.0" fill="#000" filter="url(#s22)"/>
<polygon points="186.9,21.0 265.9,21.0 265.9,57.5 253.9,60.0 243.9,61.5 231.9,62.5 219.9,59.5 205.9,55.5 195.9,50.5 186.9,47.0" fill="#000" filter="url(#s23)"/>
</g></g>
<clipPath id="c03"><rect x="263.8" y="24" width="72.5" height="54.0"/></clipPath>
<g clip-path="url(#c03)"><g filter="url(#b14)">
<rect x="260.8" y="21" width="78.5" height="60.0" fill="#c8c4de"/>
<polygon points="261.8,22.0 338.8,22.0 338.8,80.0 261.8,80.0" fill="#000" filter="url(#s24)"/>
<polygon points="289.8,21.0 339.8,21.0 339.8,30.0 307.8,33.0 297.8,38.0" fill="#aa9ee0" filter="url(#b3)"/>
<polygon points="289.8,21.0 339.8,21.0 339.8,30.0 307.8,33.0 297.8,38.0" fill="#000" filter="url(#s25)"/>
<polygon points="260.8,21.0 291.8,21.0 295.8,34.0 294.8,44.0 290.8,53.0 281.8,60.0 271.8,60.0 260.8,56.0" fill="#846ee0" filter="url(#b26)"/>
<polygon points="260.8,21.0 291.8,21.0 295.8,34.0 294.8,44.0 290.8,53.0 281.8,60.0 271.8,60.0 260.8,56.0" fill="#000" filter="url(#s27)"/>
<polygon points="260.8,21.0 291.8,21.0 295.8,34.0 294.8,44.0 290.8,53.0 281.8,60.0 271.8,60.0 260.8,56.0" fill="#000" filter="url(#s28)"/>
<polygon points="307.8,32.0 321.8,29.0 339.8,26.0 339.8,81.0 311.8,81.0 306.8,64.0 304.8,48.0 304.8,37.0" fill="#8a60e6" filter="url(#b15)"/>
<polygon points="307.8,32.0 321.8,29.0 339.8,26.0 339.8,81.0 311.8,81.0 306.8,64.0 304.8,48.0 304.8,37.0" fill="#000" filter="url(#s29)"/>
<polygon points="307.8,32.0 321.8,29.0 339.8,26.0 339.8,81.0 311.8,81.0 306.8,64.0 304.8,48.0 304.8,37.0" fill="#000" filter="url(#s30)"/>
<ellipse cx="295.8" cy="67.0" rx="9" ry="8.5" fill="#7e6cdc" filter="url(#b6)"/>
<ellipse cx="296.3" cy="67.0" rx="4.5" ry="4" fill="#d2cee2" filter="url(#b5)"/>
<ellipse cx="295.8" cy="68.0" rx="1.8" ry="1.5" fill="#7e6cdc" filter="url(#b18)"/>
<polygon points="271.8,64.0 279.8,62.0 283.8,68.0 277.8,74.0 269.8,72.0" fill="#8878dc" filter="url(#b26)"/>
<ellipse cx="275.8" cy="69.0" rx="2.5" ry="2" fill="#d2cee2" filter="url(#b6)"/>
</g></g>
<clipPath id="c10"><rect x="41" y="79.6" width="73.0" height="53.6"/></clipPath>
<g clip-path="url(#c10)"><g filter="url(#b14)">
<rect x="38" y="76.6" width="79.0" height="59.6" fill="#a06cdc"/>
<polygon points="81.0,76.6 117.0,76.6 117.0,103.6 97.0,97.6 85.0,91.6" fill="#b878cc" filter="url(#b21)"/>
<polygon points="38.0,76.6 105.0,76.6 101.0,89.6 87.0,101.6 71.0,112.6 55.0,123.6 38.0,133.6" fill="#c880a8" filter="url(#b19)"/>
<polygon points="38.0,76.6 97.0,76.6 94.0,87.6 82.0,96.6 68.0,104.6 54.0,114.6 45.0,124.6 38.0,127.6" fill="#cf8a50" filter="url(#b31)"/>
<ellipse cx="49.0" cy="93.6" rx="10" ry="11" fill="#d89448" filter="url(#b31)" opacity="0.85"/>
<polygon points="38.0,127.6 61.0,113.6 81.0,115.6 93.0,123.6 81.0,136.6 38.0,136.6" fill="#8c64dc" filter="url(#b21)" opacity="0.8"/>
<polygon points="91.0,129.6 117.0,119.6 117.0,136.6 87.0,136.6" fill="#8c58d8" filter="url(#b19)" opacity="0.8"/>
<ellipse cx="79.0" cy="111.6" rx="4.5" ry="6" fill="#cc9460" filter="url(#b26)"/>
<ellipse cx="79.0" cy="110.6" rx="1.5" ry="3" fill="#d89a48" filter="url(#b6)"/>
<polygon points="38.0,76.6 99.0,76.6 95.0,89.6 67.0,107.6 38.0,129.6" fill="#000" filter="url(#s32)"/>
<polygon points="38.0,76.6 99.0,76.6 95.0,89.6 67.0,107.6 38.0,129.6" fill="#000" filter="url(#s33)"/>
<polygon points="38.0,136.6 38.0,115.6 61.0,103.6 87.0,89.6 91.0,76.6 117.0,76.6 117.0,136.6" fill="#000" filter="url(#s34)"/>
<polygon points="38.0,136.6 38.0,115.6 61.0,103.6 87.0,89.6 91.0,76.6 117.0,76.6 117.0,136.6" fill="#000" filter="url(#s35)"/>
<polyline points="117.0,115.6 109.0,119.6 101.0,124.1 93.0,128.1 85.0,134.6 83.0,136.6" fill="none" stroke="#3a2cc2" stroke-width="3.0" stroke-linecap="round" stroke-linejoin="round" filter="url(#b14)"/>
</g></g>
<clipPath id="c11"><rect x="115.5" y="79.6" width="72.7" height="53.6"/></clipPath>
<g clip-path="url(#c11)"><g filter="url(#b14)">
<rect x="112.5" y="76.6" width="78.7" height="59.6" fill="#8e78d0"/>
<polygon points="112.5,76.6 155.5,76.6 145.5,93.6 123.5,95.6 112.5,99.6" fill="#b09ab0" filter="url(#b21)"/>
<polygon points="112.5,103.6 131.5,101.6 145.5,115.6 149.5,136.6 112.5,136.6" fill="#7460dc" filter="url(#b21)" opacity="0.9"/>
<polygon points="177.5,76.6 191.5,76.6 191.5,136.6 177.5,136.6" fill="#bc68cc" filter="url(#b31)"/>
<polygon points="137.5,76.6 161.5,76.6 161.5,99.6 165.5,119.6 165.5,136.6 151.5,136.6 147.5,109.6" fill="#c09060" filter="url(#b19)" opacity="0.85"/>
<polygon points="157.5,76.6 176.5,76.6 180.5,97.6 183.0,117.6 181.5,136.6 165.5,136.6 162.5,115.6 160.0,97.6" fill="#cf7444" filter="url(#b36)"/>
<polygon points="171.5,76.6 191.5,76.6 191.5,87.6 177.5,87.6" fill="#ac6cd0" filter="url(#b31)" opacity="0.8"/>
<polygon points="112.5,76.6 161.5,76.6 165.5,136.6 112.5,136.6" fill="#000" filter="url(#s37)"/>
<polygon points="112.5,76.6 161.5,76.6 165.5,136.6 112.5,136.6" fill="#000" filter="url(#s38)"/>
<polygon points="112.5,76.6 161.5,76.6 165.5,136.6 112.5,136.6" fill="#000" filter="url(#s39)"/>
<polygon points="159.5,76.6 191.5,76.6 191.5,136.6 163.5,136.6" fill="#000" filter="url(#s40)"/>
<polygon points="159.5,76.6 179.5,76.6 183.5,136.6 163.5,136.6" fill="#000" filter="url(#s41)"/>
<polygon points="159.5,76.6 185.5,76.6 187.5,136.6 163.5,136.6" fill="#000" filter="url(#s42)"/>
<polygon points="139.5,76.6 183.5,76.6 185.5,136.6 149.5,136.6" fill="#000" filter="url(#s43)"/>
<ellipse cx="119.5" cy="130.1" rx="3.5" ry="2" fill="#e4d4d4" filter="url(#b5)"/>
</g></g>
<clipPath id="c12"><rect x="189.9" y="79.6" width="72.3" height="53.6"/></clipPath>
<g clip-path="url(#c12)"><g filter="url(#b14)">
<rect x="186.9" y="76.6" width="78.3" height="59.6" fill="#8c68e0"/>
<polygon points="235.9,76.6 265.9,76.6 265.9,136.6 245.9,136.6 237.9,109.6" fill="#b488e6" filter="url(#b44)" opacity="0.9"/>
<polygon points="257.9,89.6 265.9,89.6 265.9,136.6 257.9,136.6" fill="#d098d8" filter="url(#b19)" opacity="0.7"/>
<polygon points="187.9,77.6 264.9,77.6 264.9,135.6 187.9,135.6" fill="#000" filter="url(#s45)"/>
<polygon points="187.9,77.6 264.9,77.6 264.9,135.6 187.9,135.6" fill="#000" filter="url(#s46)"/>
<polygon points="235.9,76.6 265.9,76.6 265.9,136.6 241.9,136.6" fill="#000" filter="url(#s47)"/>
<polygon points="186.9,76.6 203.9,76.6 201.9,89.6 195.9,99.6 186.9,103.6" fill="#bcaccc" filter="url(#b31)"/>
<polygon points="186.9,87.6 193.9,91.6 198.9,101.6 207.9,107.6 217.9,109.6 225.9,115.6 231.9,125.6 232.9,136.6 186.9,136.6" fill="#e8dcc6" filter="url(#b4)"/>
<polyline points="191.9,77.6 195.9,87.6 201.9,93.6" fill="none" stroke="#dcd2e4" stroke-width="1.5" stroke-linecap="round" stroke-linejoin="round" filter="url(#b48)"/>
<polyline points="196.9,77.6 199.9,85.6 203.9,89.6" fill="none" stroke="#dcd2e4" stroke-width="1.5" stroke-linecap="round" stroke-linejoin="round" filter="url(#b48)"/>
<ellipse cx="216.9" cy="114.1" rx="3.4" ry="3.0" fill="#b8844c" filter="url(#b18)" opacity="0.4"/>
<ellipse cx="216.9" cy="114.1" rx="2.8" ry="2.4" fill="#f8f4e4" filter="url(#b14)"/>
<ellipse cx="224.4" cy="115.6" rx="3.0" ry="3.4" fill="#b8844c" filter="url(#b18)" opacity="0.4"/>
<ellipse cx="224.4" cy="115.6" rx="2.4" ry="2.8" fill="#f8f4e4" filter="url(#b14)"/>
<ellipse cx="230.9" cy="119.1" rx="3.2" ry="2.8000000000000003" fill="#b8844c" filter="url(#b18)" opacity="0.4"/>
<ellipse cx="230.9" cy="119.1" rx="2.6" ry="2.2" fill="#f8f4e4" filter="url(#b14)"/>
<ellipse cx="213.9" cy="121.1" rx="3.8000000000000003" ry="3.4" fill="#b8844c" filter="url(#b18)" opacity="0.4"/>
<ellipse cx="213.9" cy="121.1" rx="3.2" ry="2.8" fill="#f8f4e4" filter="url(#b14)"/>
<ellipse cx="221.4" cy="122.6" rx="3.2" ry="3.6" fill="#b8844c" filter="url(#b18)" opacity="0.4"/>
<ellipse cx="221.4" cy="122.6" rx="2.6" ry="3.0" fill="#f8f4e4" filter="url(#b14)"/>
<ellipse cx="228.4" cy="126.1" rx="3.8000000000000003" ry="3.4" fill="#b8844c" filter="url(#b18)" opacity="0.4"/>
<ellipse cx="228.4" cy="126.1" rx="3.2" ry="2.8" fill="#f8f4e4" filter="url(#b14)"/>
<ellipse cx="217.9" cy="130.1" rx="3.6" ry="3.2" fill="#b8844c" filter="url(#b18)" opacity="0.4"/>
<ellipse cx="217.9" cy="130.1" rx="3.0" ry="2.6" fill="#f8f4e4" filter="url(#b14)"/>
<ellipse cx="225.4" cy="132.6" rx="3.2" ry="3.2" fill="#b8844c" filter="url(#b18)" opacity="0.4"/>
<ellipse cx="225.4" cy="132.6" rx="2.6" ry="2.6" fill="#f8f4e4" filter="url(#b14)"/>
<ellipse cx="209.9" cy="127.6" rx="2.8000000000000003" ry="3.0" fill="#b8844c" filter="url(#b18)" opacity="0.4"/>
<ellipse cx="209.9" cy="127.6" rx="2.2" ry="2.4" fill="#f8f4e4" filter="url(#b14)"/>
<polygon points="186.9,99.6 203.9,109.6 205.9,136.6 186.9,136.6" fill="#000" filter="url(#s49)"/>
<ellipse cx="203.9" cy="103.6" rx="3.5" ry="2.5" fill="#b45e2e" filter="url(#b6)" transform="rotate(-30 203.9 103.6)"/>
<ellipse cx="208.4" cy="90.6" rx="1.5" ry="3" fill="#b8683a" filter="url(#b6)"/>
<ellipse cx="199.9" cy="109.6" rx="2" ry="2" fill="#c07840" filter="url(#b6)"/>
<ellipse cx="253.9" cy="128.6" rx="1.8" ry="1.8" fill="#ecd0dc" filter="url(#b6)"/>
</g></g>
<clipPath id="c13"><rect x="263.8" y="79.6" width="72.5" height="53.6"/></clipPath>
<g clip-path="url(#c13)"><g filter="url(#b14)">
<rect x="260.8" y="76.6" width="78.5" height="59.6" fill="#a684d4"/>
<polygon points="315.8,76.6 339.8,76.6 339.8,136.6 319.8,136.6" fill="#b078dc" filter="url(#b44)" opacity="0.85"/>
<polygon points="260.8,76.6 293.8,76.6 283.8,93.6 260.8,95.6" fill="#bca6d6" filter="url(#b21)" opacity="0.85"/>
<polygon points="260.8,101.6 273.8,99.6 283.8,109.6 285.8,123.6 281.8,136.6 260.8,136.6" fill="#d8c2b2" filter="url(#b19)"/>
<polygon points="261.8,77.6 338.8,77.6 338.8,135.6 261.8,135.6" fill="#000" filter="url(#s50)"/>
<polygon points="261.8,77.6 338.8,77.6 338.8,135.6 261.8,135.6" fill="#000" filter="url(#s51)"/>
<polyline points="261.8,103.6 277.8,101.6 293.8,103.6 307.8,96.6 323.8,95.6" fill="none" stroke="#d08c4c" stroke-width="7" stroke-linecap="round" stroke-linejoin="round" filter="url(#b31)" opacity="0.6"/>
<polyline points="293.8,109.6 297.8,123.6 293.8,135.6" fill="none" stroke="#d08c4c" stroke-width="6" stroke-linecap="round" stroke-linejoin="round" filter="url(#b31)" opacity="0.5"/>
<ellipse cx="270.8" cy="100.6" rx="8" ry="6" fill="#d2843c" filter="url(#b3)"/>
<ellipse cx="265.8" cy="103.6" rx="2.5" ry="3" fill="#c87838" filter="url(#b6)"/>
<ellipse cx="294.8" cy="112.1" rx="7.5" ry="5.5" fill="#d27c30" filter="url(#b3)"/>
<ellipse cx="305.8" cy="96.6" rx="6.5" ry="3.5" fill="#d28440" filter="url(#b3)" transform="rotate(-20 305.8 96.6)"/>
<ellipse cx="317.8" cy="97.1" rx="6.5" ry="3.5" fill="#d28440" filter="url(#b3)" transform="rotate(10 317.8 97.1)"/>
<ellipse cx="281.8" cy="125.6" rx="5" ry="4" fill="#d09258" filter="url(#b3)"/>
<ellipse cx="304.8" cy="124.6" rx="4.5" ry="4" fill="#d09258" filter="url(#b3)"/>
<ellipse cx="313.8" cy="105.6" rx="4" ry="3" fill="#d49668" filter="url(#b3)"/>
<ellipse cx="293.8" cy="131.6" rx="7" ry="4" fill="#d08c40" filter="url(#b52)" opacity="0.8"/>
<ellipse cx="333.8" cy="81.6" rx="5" ry="3" fill="#d89494" filter="url(#b3)"/>
<polygon points="261.8,77.6 338.8,77.6 338.8,135.6 261.8,135.6" fill="#000" filter="url(#s53)" opacity="0.8"/>
</g></g>
<clipPath id="c20"><rect x="41" y="135.9" width="73.0" height="54.1"/></clipPath>
<g clip-path="url(#c20)"><g filter="url(#b14)">
<rect x="38" y="132.9" width="79.0" height="60.1" fill="#d8b2ee"/>
<polygon points="38.0,132.9 93.0,132.9 93.0,192.9 38.0,192.9" fill="#000" filter="url(#s54)"/>
<polygon points="65.0,132.9 89.0,132.9 91.0,192.9 63.0,192.9" fill="#000" filter="url(#s55)"/>
<polygon points="91.0,132.9 117.0,132.9 117.0,192.9 87.0,192.9 90.0,175.9 92.0,155.9" fill="#dcd4e4" filter="url(#b26)"/>
<polygon points="111.0,132.9 117.0,132.9 117.0,192.9 112.0,192.9" fill="#e0c0e6" filter="url(#b3)" opacity="0.8"/>
<polyline points="93.0,133.9 92.0,143.9 94.0,151.9 91.0,161.9 92.0,169.9 89.0,177.9 91.0,185.9 88.0,191.9" fill="none" stroke="#6e52d4" stroke-width="1.8" stroke-linecap="round" stroke-linejoin="round" filter="url(#b56)"/>
<polyline points="117.0,134.9 109.0,141.9 105.0,146.9 101.0,153.9 97.0,161.9 96.0,169.9 97.0,177.9 94.0,185.9 95.0,191.9" fill="none" stroke="#6e52d4" stroke-width="1.8" stroke-linecap="round" stroke-linejoin="round" filter="url(#b56)"/>
<polyline points="105.0,146.9 108.0,151.9 109.0,154.9" fill="none" stroke="#6e52d4" stroke-width="1.6" stroke-linecap="round" stroke-linejoin="round" filter="url(#b56)"/>
<polyline points="97.0,161.9 92.0,165.9" fill="none" stroke="#6e52d4" stroke-width="1.6" stroke-linecap="round" stroke-linejoin="round" filter="url(#b56)"/>
<polyline points="97.0,177.9 101.0,176.9 104.0,178.9" fill="none" stroke="#6e52d4" stroke-width="1.5" stroke-linecap="round" stroke-linejoin="round" filter="url(#b56)"/>
<polyline points="99.0,136.9 97.0,139.9 100.0,142.9" fill="none" stroke="#6e52d4" stroke-width="1.5" stroke-linecap="round" stroke-linejoin="round" filter="url(#b56)"/>
<ellipse cx="97.0" cy="182.9" rx="2.2" ry="3.5" fill="#6e52d4" filter="url(#b48)"/>
</g></g>
<clipPath id="c21"><rect x="115.5" y="135.9" width="72.7" height="54.1"/></clipPath>
<g clip-path="url(#c21)"><g filter="url(#b14)">
<rect x="112.5" y="132.9" width="78.7" height="60.1" fill="#e2c8e8"/>
<polygon points="112.5,132.9 153.5,132.9 155.5,145.9 135.5,151.9 112.5,153.9" fill="#e0d0dc" filter="url(#b31)"/>
<polygon points="179.5,132.9 191.5,132.9 191.5,141.9 181.5,143.9" fill="#e2d6e4" filter="url(#b3)"/>
<polygon points="112.5,152.9 145.5,154.9 167.5,150.9 191.5,147.9 191.5,165.9 169.5,168.9 145.5,168.9 112.5,163.9" fill="#ccb0e6" filter="url(#b31)"/>
<polygon points="112.5,151.9 145.5,153.9 167.5,149.9 191.5,146.9 191.5,166.9 169.5,169.9 145.5,169.9 112.5,164.9" fill="#000" filter="url(#s57)"/>
<polygon points="112.5,165.9 191.5,165.9 191.5,192.9 112.5,192.9" fill="#000" filter="url(#s58)"/>
<polygon points="153.5,137.9 159.5,135.9 167.5,137.9 167.5,144.9 159.5,145.9 153.5,143.9" fill="#8068d4" filter="url(#b5)"/>
<polygon points="153.5,137.9 159.5,135.9 167.5,137.9 167.5,144.9 159.5,145.9 153.5,143.9" fill="#000" filter="url(#s59)"/>
<polygon points="172.5,139.9 177.5,137.9 179.5,139.9 175.5,142.9" fill="#8068d4" filter="url(#b6)"/>
<polyline points="179.5,140.9 185.5,141.9 191.5,139.9" fill="none" stroke="#8c70d4" stroke-width="1.2" stroke-linecap="round" stroke-linejoin="round" filter="url(#b56)"/>
<ellipse cx="126.0" cy="186.9" rx="5" ry="3" fill="#4030c8" filter="url(#b14)"/>
<ellipse cx="134.5" cy="188.9" rx="2.5" ry="1.5" fill="#e8dca8" filter="url(#b6)" opacity="0.7"/>
</g></g>
<clipPath id="c22"><rect x="189.9" y="135.9" width="72.3" height="54.1"/></clipPath>
<g clip-path="url(#c22)"><g filter="url(#b14)">
<rect x="186.9" y="132.9" width="78.3" height="60.1" fill="#d8b4ea"/>
<polygon points="186.9,132.9 233.9,132.9 231.9,155.9 239.9,179.9 265.9,175.9 265.9,192.9 186.9,192.9" fill="#000" filter="url(#s60)"/>
<polygon points="231.9,137.9 245.9,136.9 255.9,141.9 256.9,153.9 249.9,159.9 247.9,169.9 239.9,175.9 232.9,167.9 229.9,151.9" fill="#ddd2e2" filter="url(#b61)"/>
<polygon points="249.9,132.9 265.9,132.9 265.9,149.9 255.9,147.9" fill="#dccfe2" filter="url(#b3)"/>
<polygon points="247.9,155.9 252.9,151.9 258.9,149.9 261.9,155.9 259.9,166.9 252.9,172.9 245.9,170.9" fill="#000" filter="url(#s62)"/>
<polyline points="249.9,157.9 253.9,159.9 257.9,153.9" fill="none" stroke="#6a44d0" stroke-width="1.6" stroke-linecap="round" stroke-linejoin="round" filter="url(#b56)"/>
<polyline points="253.9,159.9 254.9,166.9 250.9,170.9" fill="none" stroke="#6a44d0" stroke-width="1.6" stroke-linecap="round" stroke-linejoin="round" filter="url(#b56)"/>
<polygon points="233.9,177.9 243.9,172.9 252.9,174.9 255.9,183.9 251.9,192.9 233.9,192.9" fill="#000" filter="url(#s63)"/>
<polygon points="233.9,171.9 255.9,171.9 255.9,192.9 233.9,192.9" fill="#000" filter="url(#s64)"/>
<ellipse cx="217.9" cy="185.9" rx="4" ry="5" fill="#decfe2" filter="url(#b5)"/>
<polygon points="253.9,177.9 265.9,173.9 265.9,192.9 251.9,192.9" fill="#e2cee4" filter="url(#b3)"/>
<polyline points="239.9,139.9 241.9,141.9 243.9,144.9" fill="none" stroke="#7658d0" stroke-width="1.2" stroke-linecap="round" stroke-linejoin="round" filter="url(#b65)"/>
</g></g>
<clipPath id="c23"><rect x="263.8" y="135.9" width="72.5" height="54.1"/></clipPath>
<g clip-path="url(#c23)"><g filter="url(#b14)">
<rect x="260.8" y="132.9" width="78.5" height="60.1" fill="#dcc0ea"/>
<polygon points="261.8,133.9 338.8,133.9 338.8,191.9 261.8,191.9" fill="#000" filter="url(#s66)"/>
<polygon points="261.8,133.9 338.8,133.9 338.8,191.9 261.8,191.9" fill="#000" filter="url(#s67)"/>
<polygon points="273.8,132.9 339.8,132.9 339.8,156.9 323.8,151.9 307.8,147.9 291.8,143.9 277.8,138.9" fill="#d8d0e2" filter="url(#b6)"/>
<polyline points="275.8,138.9 285.8,142.9 293.8,146.9 307.8,149.4 321.8,153.4 329.8,156.9 339.8,153.9" fill="none" stroke="#6e4cd2" stroke-width="2.0" stroke-linecap="round" stroke-linejoin="round" filter="url(#b56)"/>
<polygon points="277.8,135.9 313.8,141.9 313.8,147.9 277.8,141.9" fill="#000" filter="url(#s68)"/>
</g></g>
<clipPath id="c30"><rect x="41" y="191.4" width="73.0" height="53.8"/></clipPath>
<g clip-path="url(#c30)"><g filter="url(#b14)">
<rect x="38" y="188.4" width="79.0" height="59.8" fill="#d69ce8"/>
<polygon points="38.0,227.4 61.0,231.4 71.0,248.4 38.0,248.4" fill="#e09ce2" filter="url(#b44)" opacity="0.8"/>
<polygon points="97.0,188.4 117.0,188.4 117.0,248.4 101.0,248.4" fill="#b898ea" filter="url(#b44)" opacity="0.8"/>
<polygon points="39.0,189.4 116.0,189.4 116.0,247.4 39.0,247.4" fill="#000" filter="url(#s69)"/>
<polygon points="39.0,189.4 116.0,189.4 116.0,247.4 39.0,247.4" fill="#000" filter="url(#s70)"/>
<polyline points="65.0,226.4 69.0,224.9 73.0,226.4" fill="none" stroke="#e87aa0" stroke-width="1.2" stroke-linecap="round" stroke-linejoin="round" filter="url(#b48)"/>
</g></g>
<clipPath id="c31"><rect x="115.5" y="191.4" width="72.7" height="53.8"/></clipPath>
<g clip-path="url(#c31)"><g filter="url(#b14)">
<rect x="112.5" y="188.4" width="78.7" height="59.8" fill="#dab8ee"/>
<polygon points="155.5,188.4 191.5,188.4 191.5,248.4 159.5,248.4" fill="#dcc4ec" filter="url(#b21)"/>
<polygon points="112.5,188.4 159.5,188.4 155.5,248.4 112.5,248.4" fill="#000" filter="url(#s71)"/>
<polygon points="155.5,188.4 191.5,188.4 191.5,248.4 155.5,248.4" fill="#000" filter="url(#s72)"/>
<ellipse cx="171.5" cy="221.4" rx="10" ry="12" fill="#dccce8" filter="url(#b52)" transform="rotate(-20 171.5 221.4)"/>
<ellipse cx="129.0" cy="216.4" rx="1.8" ry="4.5" fill="#6a48d0" filter="url(#b18)" transform="rotate(-15 129.0 216.4)"/>
<ellipse cx="139.5" cy="229.4" rx="4" ry="3" fill="#dcc4c8" filter="url(#b3)" opacity="0.8"/>
<polyline points="191.5,223.4 181.5,233.4 173.5,241.4" fill="none" stroke="#e0d4ec" stroke-width="1.2" stroke-linecap="round" stroke-linejoin="round" filter="url(#b48)"/>
</g></g>
<clipPath id="c32"><rect x="189.9" y="191.4" width="72.3" height="53.8"/></clipPath>
<g clip-path="url(#c32)"><g filter="url(#b14)">
<rect x="186.9" y="188.4" width="78.3" height="59.8" fill="#dfc0ea"/>
<polygon points="186.9,188.4 213.9,188.4 203.9,207.4 186.9,211.4" fill="#dccae4" filter="url(#b21)"/>
<ellipse cx="218.9" cy="233.4" rx="8" ry="6" fill="#e4cee6" filter="url(#b31)"/>
<polygon points="187.9,189.4 264.9,189.4 264.9,247.4 187.9,247.4" fill="#000" filter="url(#s73)"/>
<polygon points="239.9,188.4 265.9,188.4 265.9,231.4 245.9,221.4" fill="#000" filter="url(#s74)"/>
</g></g>
<clipPath id="c33"><rect x="263.8" y="191.4" width="72.5" height="53.8"/></clipPath>
<g clip-path="url(#c33)"><g filter="url(#b14)">
<rect x="260.8" y="188.4" width="78.5" height="59.8" fill="#deb8e8"/>
<polygon points="260.8,188.4 299.8,188.4 293.8,221.4 303.8,248.4 260.8,248.4" fill="#000" filter="url(#s75)"/>
<polygon points="299.8,191.4 323.8,188.4 339.8,188.4 339.8,221.4 321.8,231.4 303.8,227.4 297.8,207.4" fill="#d8c6e8" filter="url(#b19)"/>
<polygon points="283.8,237.4 339.8,233.4 339.8,248.4 283.8,248.4" fill="#e0c6e4" filter="url(#b19)" opacity="0.8"/>
<polygon points="321.8,199.4 326.8,199.4 326.8,233.4 321.8,233.4" fill="#000" filter="url(#s76)"/>
<polygon points="327.8,211.4 339.8,211.4 339.8,248.4 313.8,248.4 315.8,235.4" fill="#000" filter="url(#s77)"/>
</g></g>
<g clip-path="url(#call)"><rect x="40" y="23" width="298" height="56.0" fill="#000" filter="url(#motd)" opacity="0.34"/><rect x="40" y="23" width="298" height="56.0" fill="#000" filter="url(#motl)" opacity="0.36"/><rect x="40" y="78.6" width="298" height="55.6" fill="#000" filter="url(#motd)" opacity="0.42"/><rect x="40" y="78.6" width="298" height="55.6" fill="#000" filter="url(#motl)" opacity="0.16"/><rect x="40" y="134.9" width="298" height="56.1" fill="#000" filter="url(#motp)" opacity="0.3"/><rect x="40" y="134.9" width="298" height="56.1" fill="#000" filter="url(#motl)" opacity="0.3"/><rect x="40" y="190.4" width="298" height="55.8" fill="#000" filter="url(#motp)" opacity="0.3"/><rect x="40" y="190.4" width="298" height="55.8" fill="#000" filter="url(#motl)" opacity="0.3"/></g>
<text x="6.9" y="11.4" font-size="14" text-anchor="start" font-weight="bold" fill="#0a0a0a">A</text>
<text x="77.5" y="13.8" font-size="11.5" text-anchor="middle" font-weight="bold" fill="#0a0a0a">Day 1</text>
<text x="151.5" y="13.8" font-size="11.5" text-anchor="middle" font-weight="bold" fill="#0a0a0a">Day 7</text>
<text x="226" y="13.8" font-size="11.5" text-anchor="middle" font-weight="bold" fill="#0a0a0a">Day 14</text>
<text x="299.5" y="13.8" font-size="11.5" text-anchor="middle" font-weight="bold" fill="#0a0a0a">Day 21</text>
<line x1="11.50" y1="23.50" x2="11.50" y2="132.50" stroke="#0a0a0a" stroke-width="1.8" stroke-linecap="butt"/>
<line x1="11.50" y1="135.80" x2="11.50" y2="245.20" stroke="#0a0a0a" stroke-width="1.8" stroke-linecap="butt"/>
<text x="7.3" y="75.6" font-size="8.0" text-anchor="middle" font-weight="bold" fill="#0a0a0a" transform="rotate(-90 7.3 75.6)" textLength="31.5" lengthAdjust="spacingAndGlyphs">TUMOR</text>
<text x="7.6" y="185.2" font-size="8.0" text-anchor="middle" font-weight="bold" fill="#0a0a0a" transform="rotate(-90 7.6 185.2)" textLength="69" lengthAdjust="spacingAndGlyphs">INJECTION SITE</text>
<text x="23.6" y="50.9" font-size="8.15" text-anchor="middle" font-weight="bold" fill="#0a0a0a" transform="rotate(-90 23.6 50.9)">Bolus</text>
<text x="34.6" y="50.9" font-size="8.15" text-anchor="middle" font-weight="bold" fill="#0a0a0a" transform="rotate(-90 34.6 50.9)">BiJ591 s.c.</text>
<text x="23.6" y="106.8" font-size="8.15" text-anchor="middle" font-weight="bold" fill="#0a0a0a" transform="rotate(-90 23.6 106.8)">BiJ591</text>
<text x="34.6" y="106.8" font-size="8.15" text-anchor="middle" font-weight="bold" fill="#0a0a0a" transform="rotate(-90 34.6 106.8)">TB1/DB4</text>
<text x="23.6" y="163.3" font-size="8.15" text-anchor="middle" font-weight="bold" fill="#0a0a0a" transform="rotate(-90 23.6 163.3)">Bolus</text>
<text x="34.6" y="163.3" font-size="8.15" text-anchor="middle" font-weight="bold" fill="#0a0a0a" transform="rotate(-90 34.6 163.3)">BiJ591 s.c.</text>
<text x="23.6" y="217.3" font-size="8.15" text-anchor="middle" font-weight="bold" fill="#0a0a0a" transform="rotate(-90 23.6 217.3)">BiJ591</text>
<text x="34.6" y="217.3" font-size="8.15" text-anchor="middle" font-weight="bold" fill="#0a0a0a" transform="rotate(-90 34.6 217.3)">TB1/DB4</text>
<line x1="373.30" y1="59.60" x2="373.30" y2="205.70" stroke="#0a0a0a" stroke-width="1.8" stroke-linecap="butt"/>
<line x1="372.40" y1="204.80" x2="519.00" y2="204.80" stroke="#0a0a0a" stroke-width="1.8" stroke-linecap="butt"/>
<line x1="369.80" y1="204.80" x2="373.30" y2="204.80" stroke="#0a0a0a" stroke-width="1.6" stroke-linecap="butt"/>
<text x="368.6" y="208.10000000000002" font-size="9.3" text-anchor="end" font-weight="bold" fill="#0a0a0a">0</text>
<line x1="369.80" y1="156.66" x2="373.30" y2="156.66" stroke="#0a0a0a" stroke-width="1.6" stroke-linecap="butt"/>
<text x="368.6" y="159.96000000000004" font-size="9.3" text-anchor="end" font-weight="bold" fill="#0a0a0a">20</text>
<line x1="369.80" y1="108.52" x2="373.30" y2="108.52" stroke="#0a0a0a" stroke-width="1.6" stroke-linecap="butt"/>
<text x="368.6" y="111.82000000000001" font-size="9.3" text-anchor="end" font-weight="bold" fill="#0a0a0a">40</text>
<line x1="369.80" y1="60.38" x2="373.30" y2="60.38" stroke="#0a0a0a" stroke-width="1.6" stroke-linecap="butt"/>
<text x="368.6" y="63.67999999999999" font-size="9.3" text-anchor="end" font-weight="bold" fill="#0a0a0a">60</text>
<text x="355.2" y="131.5" font-size="11.5" text-anchor="middle" font-weight="bold" fill="#0a0a0a" transform="rotate(-90 355.2 131.5)">% Area</text>
<rect x="386.6" y="61.3" width="9.6" height="5.8" fill="#fff" stroke="#0a0a0a" stroke-width="1.4"/>
<rect x="385.9" y="72" width="11" height="6.8" fill="#0a0a0a"/>
<text x="402.6" y="67.4" font-size="9.0" text-anchor="start" font-weight="bold" fill="#0a0a0a">Bolus BiJ591 s.c.</text>
<text x="402.6" y="78.9" font-size="9.0" text-anchor="start" font-weight="bold" fill="#0a0a0a">BiJ591 TB1/DB4</text>
<line x1="387.45" y1="195.17" x2="387.45" y2="189.64" stroke="#0a0a0a" stroke-width="1.4" stroke-linecap="butt"/>
<line x1="383.85" y1="189.64" x2="391.05" y2="189.64" stroke="#0a0a0a" stroke-width="1.4" stroke-linecap="butt"/>
<line x1="401.75" y1="110.45" x2="401.75" y2="103.71" stroke="#0a0a0a" stroke-width="1.4" stroke-linecap="butt"/>
<line x1="397.95" y1="103.71" x2="405.55" y2="103.71" stroke="#0a0a0a" stroke-width="1.4" stroke-linecap="butt"/>
<rect x="380.85" y="195.87" width="13.55" height="8.93" fill="#fff" stroke="#0a0a0a" stroke-width="1.5"/>
<rect x="394.40" y="110.45" width="14.70" height="94.35" fill="#0a0a0a"/>
<line x1="394.60" y1="204.80" x2="394.60" y2="208.40" stroke="#0a0a0a" stroke-width="1.5" stroke-linecap="butt"/>
<text x="394.59999999999997" y="217.0" font-size="8.3" text-anchor="middle" font-weight="bold" fill="#0a0a0a">Day 1</text>
<polyline points="387.85,185.44 387.85,96.10 402.05,96.10 402.05,100.11" fill="none" stroke="#0a0a0a" stroke-width="1.4" stroke-linejoin="miter"/>
<text x="395.24999999999994" y="94.0" font-size="9.9" text-anchor="middle" font-weight="bold" fill="#0a0a0a" class="st">****</text>
<line x1="421.95" y1="167.73" x2="421.95" y2="157.62" stroke="#0a0a0a" stroke-width="1.4" stroke-linecap="butt"/>
<line x1="418.35" y1="157.62" x2="425.55" y2="157.62" stroke="#0a0a0a" stroke-width="1.4" stroke-linecap="butt"/>
<line x1="436.25" y1="105.15" x2="436.25" y2="101.06" stroke="#0a0a0a" stroke-width="1.4" stroke-linecap="butt"/>
<line x1="432.45" y1="101.06" x2="440.05" y2="101.06" stroke="#0a0a0a" stroke-width="1.4" stroke-linecap="butt"/>
<rect x="415.35" y="168.43" width="13.55" height="36.37" fill="#fff" stroke="#0a0a0a" stroke-width="1.5"/>
<rect x="428.90" y="105.15" width="14.70" height="99.65" fill="#0a0a0a"/>
<line x1="429.10" y1="204.80" x2="429.10" y2="208.40" stroke="#0a0a0a" stroke-width="1.5" stroke-linecap="butt"/>
<text x="429.09999999999997" y="217.0" font-size="8.3" text-anchor="middle" font-weight="bold" fill="#0a0a0a">Day 7</text>
<polyline points="422.35,153.42 422.35,94.60 436.55,94.60 436.55,97.46" fill="none" stroke="#0a0a0a" stroke-width="1.4" stroke-linejoin="miter"/>
<text x="429.74999999999994" y="92.5" font-size="9.9" text-anchor="middle" font-weight="bold" fill="#0a0a0a" class="st">****</text>
<line x1="456.45" y1="201.67" x2="456.45" y2="200.71" stroke="#0a0a0a" stroke-width="1.4" stroke-linecap="butt"/>
<line x1="452.85" y1="200.71" x2="460.05" y2="200.71" stroke="#0a0a0a" stroke-width="1.4" stroke-linecap="butt"/>
<line x1="470.75" y1="168.94" x2="470.75" y2="159.31" stroke="#0a0a0a" stroke-width="1.4" stroke-linecap="butt"/>
<line x1="466.95" y1="159.31" x2="474.55" y2="159.31" stroke="#0a0a0a" stroke-width="1.4" stroke-linecap="butt"/>
<rect x="449.85" y="202.37" width="13.55" height="2.43" fill="#fff" stroke="#0a0a0a" stroke-width="1.5"/>
<rect x="463.40" y="168.94" width="14.70" height="35.86" fill="#0a0a0a"/>
<line x1="463.60" y1="204.80" x2="463.60" y2="208.40" stroke="#0a0a0a" stroke-width="1.5" stroke-linecap="butt"/>
<text x="463.59999999999997" y="217.0" font-size="8.3" text-anchor="middle" font-weight="bold" fill="#0a0a0a">Day 14</text>
<polyline points="456.85,196.51 456.85,151.80 471.05,151.80 471.05,155.71" fill="none" stroke="#0a0a0a" stroke-width="1.4" stroke-linejoin="miter"/>
<text x="464.24999999999994" y="149.7" font-size="9.9" text-anchor="middle" font-weight="bold" fill="#0a0a0a" class="st">**</text>
<line x1="490.95" y1="202.87" x2="490.95" y2="202.39" stroke="#0a0a0a" stroke-width="1.4" stroke-linecap="butt"/>
<line x1="487.35" y1="202.39" x2="494.55" y2="202.39" stroke="#0a0a0a" stroke-width="1.4" stroke-linecap="butt"/>
<line x1="505.25" y1="150.40" x2="505.25" y2="143.42" stroke="#0a0a0a" stroke-width="1.4" stroke-linecap="butt"/>
<line x1="501.45" y1="143.42" x2="509.05" y2="143.42" stroke="#0a0a0a" stroke-width="1.4" stroke-linecap="butt"/>
<rect x="484.35" y="203.57" width="13.55" height="1.23" fill="#fff" stroke="#0a0a0a" stroke-width="1.5"/>
<rect x="497.90" y="150.40" width="14.70" height="54.40" fill="#0a0a0a"/>
<line x1="498.10" y1="204.80" x2="498.10" y2="208.40" stroke="#0a0a0a" stroke-width="1.5" stroke-linecap="butt"/>
<text x="498.09999999999997" y="217.0" font-size="8.3" text-anchor="middle" font-weight="bold" fill="#0a0a0a">Day 21</text>
<polyline points="491.35,198.19 491.35,136.80 505.55,136.80 505.55,139.82" fill="none" stroke="#0a0a0a" stroke-width="1.4" stroke-linejoin="miter"/>
<text x="498.74999999999994" y="134.7" font-size="9.9" text-anchor="middle" font-weight="bold" fill="#0a0a0a" class="st">****</text>
<text x="6.8" y="265.4" font-size="14" text-anchor="start" font-weight="bold" fill="#0a0a0a">B</text>
<line x1="52.70" y1="270.79" x2="52.70" y2="412.60" stroke="#0a0a0a" stroke-width="1.8" stroke-linecap="butt"/>
<line x1="49.10" y1="411.80" x2="194.65" y2="411.80" stroke="#0a0a0a" stroke-width="1.8" stroke-linecap="butt"/>
<line x1="49.00" y1="411.80" x2="52.70" y2="411.80" stroke="#0a0a0a" stroke-width="1.5" stroke-linecap="butt"/>
<text x="47.3" y="414.40000000000003" font-size="8.4" text-anchor="end" font-weight="bold" fill="#0a0a0a">0</text>
<line x1="49.00" y1="399.05" x2="52.70" y2="399.05" stroke="#0a0a0a" stroke-width="1.5" stroke-linecap="butt"/>
<text x="47.3" y="401.65400000000005" font-size="8.4" text-anchor="end" font-weight="bold" fill="#0a0a0a">200</text>
<line x1="49.00" y1="386.31" x2="52.70" y2="386.31" stroke="#0a0a0a" stroke-width="1.5" stroke-linecap="butt"/>
<text x="47.3" y="388.908" font-size="8.4" text-anchor="end" font-weight="bold" fill="#0a0a0a">400</text>
<line x1="49.00" y1="373.56" x2="52.70" y2="373.56" stroke="#0a0a0a" stroke-width="1.5" stroke-linecap="butt"/>
<text x="47.3" y="376.16200000000003" font-size="8.4" text-anchor="end" font-weight="bold" fill="#0a0a0a">600</text>
<line x1="49.00" y1="360.82" x2="52.70" y2="360.82" stroke="#0a0a0a" stroke-width="1.5" stroke-linecap="butt"/>
<text x="47.3" y="363.41600000000005" font-size="8.4" text-anchor="end" font-weight="bold" fill="#0a0a0a">800</text>
<line x1="49.00" y1="348.07" x2="52.70" y2="348.07" stroke="#0a0a0a" stroke-width="1.5" stroke-linecap="butt"/>
<text x="47.3" y="350.67" font-size="8.4" text-anchor="end" font-weight="bold" fill="#0a0a0a">1,000</text>
<line x1="49.00" y1="335.32" x2="52.70" y2="335.32" stroke="#0a0a0a" stroke-width="1.5" stroke-linecap="butt"/>
<text x="47.3" y="337.92400000000004" font-size="8.4" text-anchor="end" font-weight="bold" fill="#0a0a0a">1,200</text>
<line x1="49.00" y1="322.58" x2="52.70" y2="322.58" stroke="#0a0a0a" stroke-width="1.5" stroke-linecap="butt"/>
<text x="47.3" y="325.17800000000005" font-size="8.4" text-anchor="end" font-weight="bold" fill="#0a0a0a">1,400</text>
<line x1="49.00" y1="309.83" x2="52.70" y2="309.83" stroke="#0a0a0a" stroke-width="1.5" stroke-linecap="butt"/>
<text x="47.3" y="312.432" font-size="8.4" text-anchor="end" font-weight="bold" fill="#0a0a0a">1,600</text>
<line x1="49.00" y1="297.09" x2="52.70" y2="297.09" stroke="#0a0a0a" stroke-width="1.5" stroke-linecap="butt"/>
<text x="47.3" y="299.68600000000004" font-size="8.4" text-anchor="end" font-weight="bold" fill="#0a0a0a">1,800</text>
<line x1="49.00" y1="284.34" x2="52.70" y2="284.34" stroke="#0a0a0a" stroke-width="1.5" stroke-linecap="butt"/>
<text x="47.3" y="286.94000000000005" font-size="8.4" text-anchor="end" font-weight="bold" fill="#0a0a0a">2,000</text>
<line x1="49.00" y1="271.59" x2="52.70" y2="271.59" stroke="#0a0a0a" stroke-width="1.5" stroke-linecap="butt"/>
<text x="47.3" y="274.1940000000001" font-size="8.4" text-anchor="end" font-weight="bold" fill="#0a0a0a">2,200</text>
<line x1="52.70" y1="411.80" x2="52.70" y2="415.40" stroke="#0a0a0a" stroke-width="1.5" stroke-linecap="butt"/>
<text x="52.7" y="424.4" font-size="8.4" text-anchor="middle" font-weight="bold" fill="#0a0a0a">0</text>
<line x1="76.22" y1="411.80" x2="76.22" y2="415.40" stroke="#0a0a0a" stroke-width="1.5" stroke-linecap="butt"/>
<text x="76.225" y="424.4" font-size="8.4" text-anchor="middle" font-weight="bold" fill="#0a0a0a">5</text>
<line x1="99.75" y1="411.80" x2="99.75" y2="415.40" stroke="#0a0a0a" stroke-width="1.5" stroke-linecap="butt"/>
<text x="99.75" y="424.4" font-size="8.4" text-anchor="middle" font-weight="bold" fill="#0a0a0a">10</text>
<line x1="123.28" y1="411.80" x2="123.28" y2="415.40" stroke="#0a0a0a" stroke-width="1.5" stroke-linecap="butt"/>
<text x="123.275" y="424.4" font-size="8.4" text-anchor="middle" font-weight="bold" fill="#0a0a0a">15</text>
<line x1="146.80" y1="411.80" x2="146.80" y2="415.40" stroke="#0a0a0a" stroke-width="1.5" stroke-linecap="butt"/>
<text x="146.8" y="424.4" font-size="8.4" text-anchor="middle" font-weight="bold" fill="#0a0a0a">20</text>
<line x1="170.32" y1="411.80" x2="170.32" y2="415.40" stroke="#0a0a0a" stroke-width="1.5" stroke-linecap="butt"/>
<text x="170.325" y="424.4" font-size="8.4" text-anchor="middle" font-weight="bold" fill="#0a0a0a">25</text>
<line x1="193.85" y1="411.80" x2="193.85" y2="415.40" stroke="#0a0a0a" stroke-width="1.5" stroke-linecap="butt"/>
<text x="193.85000000000002" y="424.4" font-size="8.4" text-anchor="middle" font-weight="bold" fill="#0a0a0a">30</text>
<text x="19.3" y="339" font-size="11.5" font-weight="bold" fill="#0a0a0a" text-anchor="middle" transform="rotate(-90 19.3 339)">Tumor volume (mm<tspan font-size="7.5" dy="-4">3</tspan><tspan dy="4">)</tspan></text>
<line x1="146.80" y1="392.36" x2="146.80" y2="397.84" stroke="#0a0a0a" stroke-width="1.2" stroke-linecap="butt"/>
<line x1="143.70" y1="392.36" x2="149.90" y2="392.36" stroke="#0a0a0a" stroke-width="1.2" stroke-linecap="butt"/>
<line x1="143.70" y1="397.84" x2="149.90" y2="397.84" stroke="#0a0a0a" stroke-width="1.2" stroke-linecap="butt"/>
<line x1="165.62" y1="382.68" x2="165.62" y2="393.13" stroke="#0a0a0a" stroke-width="1.2" stroke-linecap="butt"/>
<line x1="162.52" y1="382.68" x2="168.72" y2="382.68" stroke="#0a0a0a" stroke-width="1.2" stroke-linecap="butt"/>
<line x1="162.52" y1="393.13" x2="168.72" y2="393.13" stroke="#0a0a0a" stroke-width="1.2" stroke-linecap="butt"/>
<line x1="179.74" y1="377.51" x2="179.74" y2="390.00" stroke="#0a0a0a" stroke-width="1.2" stroke-linecap="butt"/>
<line x1="176.64" y1="377.51" x2="182.84" y2="377.51" stroke="#0a0a0a" stroke-width="1.2" stroke-linecap="butt"/>
<line x1="176.64" y1="390.00" x2="182.84" y2="390.00" stroke="#0a0a0a" stroke-width="1.2" stroke-linecap="butt"/>
<polyline points="52.70,398.29 66.81,395.87 85.64,395.87 99.75,395.87 118.57,395.87 132.69,396.70 146.80,395.10 165.62,387.90 179.74,383.76" fill="none" stroke="#0a0a0a" stroke-width="1.4" stroke-linejoin="round"/>
<polygon points="49.70,395.97 55.70,395.97 52.70,401.77" fill="#0a0a0a"/>
<polygon points="63.81,393.55 69.81,393.55 66.81,399.35" fill="#0a0a0a"/>
<polygon points="82.64,393.55 88.64,393.55 85.64,399.35" fill="#0a0a0a"/>
<polygon points="96.75,393.55 102.75,393.55 99.75,399.35" fill="#0a0a0a"/>
<polygon points="115.57,393.55 121.57,393.55 118.57,399.35" fill="#0a0a0a"/>
<polygon points="129.69,394.38 135.69,394.38 132.69,400.18" fill="#0a0a0a"/>
<polygon points="143.80,392.78 149.80,392.78 146.80,398.58" fill="#0a0a0a"/>
<polygon points="162.62,385.58 168.62,385.58 165.62,391.38" fill="#0a0a0a"/>
<polygon points="176.74,381.44 182.74,381.44 179.74,387.24" fill="#0a0a0a"/>
<line x1="146.80" y1="381.97" x2="146.80" y2="388.35" stroke="#0a0a0a" stroke-width="1.2" stroke-linecap="butt"/>
<line x1="143.70" y1="381.97" x2="149.90" y2="381.97" stroke="#0a0a0a" stroke-width="1.2" stroke-linecap="butt"/>
<line x1="143.70" y1="388.35" x2="149.90" y2="388.35" stroke="#0a0a0a" stroke-width="1.2" stroke-linecap="butt"/>
<line x1="165.62" y1="369.93" x2="165.62" y2="384.20" stroke="#0a0a0a" stroke-width="1.2" stroke-linecap="butt"/>
<line x1="162.52" y1="369.93" x2="168.72" y2="369.93" stroke="#0a0a0a" stroke-width="1.2" stroke-linecap="butt"/>
<line x1="162.52" y1="384.20" x2="168.72" y2="384.20" stroke="#0a0a0a" stroke-width="1.2" stroke-linecap="butt"/>
<line x1="179.74" y1="357.25" x2="179.74" y2="371.01" stroke="#0a0a0a" stroke-width="1.2" stroke-linecap="butt"/>
<line x1="176.64" y1="357.25" x2="182.84" y2="357.25" stroke="#0a0a0a" stroke-width="1.2" stroke-linecap="butt"/>
<line x1="176.64" y1="371.01" x2="182.84" y2="371.01" stroke="#0a0a0a" stroke-width="1.2" stroke-linecap="butt"/>
<polyline points="52.70,398.29 66.81,392.30 85.64,391.66 99.75,390.77 118.57,386.44 132.69,386.18 146.80,385.16 165.62,377.07 179.74,364.13" fill="none" stroke="#0a0a0a" stroke-width="1.4" stroke-linejoin="round"/>
<rect x="50.10" y="395.69" width="5.20" height="5.20" fill="#0a0a0a"/>
<rect x="64.22" y="389.70" width="5.20" height="5.20" fill="#0a0a0a"/>
<rect x="83.04" y="389.06" width="5.20" height="5.20" fill="#0a0a0a"/>
<rect x="97.15" y="388.17" width="5.20" height="5.20" fill="#0a0a0a"/>
<rect x="115.97" y="383.84" width="5.20" height="5.20" fill="#0a0a0a"/>
<rect x="130.09" y="383.58" width="5.20" height="5.20" fill="#0a0a0a"/>
<rect x="144.20" y="382.56" width="5.20" height="5.20" fill="#0a0a0a"/>
<rect x="163.02" y="374.47" width="5.20" height="5.20" fill="#0a0a0a"/>
<rect x="177.14" y="361.53" width="5.20" height="5.20" fill="#0a0a0a"/>
<line x1="146.80" y1="367.51" x2="146.80" y2="377.70" stroke="#0a0a0a" stroke-width="1.2" stroke-linecap="butt"/>
<line x1="143.70" y1="367.51" x2="149.90" y2="367.51" stroke="#0a0a0a" stroke-width="1.2" stroke-linecap="butt"/>
<line x1="143.70" y1="377.70" x2="149.90" y2="377.70" stroke="#0a0a0a" stroke-width="1.2" stroke-linecap="butt"/>
<line x1="165.62" y1="347.31" x2="165.62" y2="370.25" stroke="#0a0a0a" stroke-width="1.2" stroke-linecap="butt"/>
<line x1="162.52" y1="347.31" x2="168.72" y2="347.31" stroke="#0a0a0a" stroke-width="1.2" stroke-linecap="butt"/>
<line x1="162.52" y1="370.25" x2="168.72" y2="370.25" stroke="#0a0a0a" stroke-width="1.2" stroke-linecap="butt"/>
<line x1="179.74" y1="320.54" x2="179.74" y2="350.11" stroke="#0a0a0a" stroke-width="1.2" stroke-linecap="butt"/>
<line x1="176.64" y1="320.54" x2="182.84" y2="320.54" stroke="#0a0a0a" stroke-width="1.2" stroke-linecap="butt"/>
<line x1="176.64" y1="350.11" x2="182.84" y2="350.11" stroke="#0a0a0a" stroke-width="1.2" stroke-linecap="butt"/>
<polyline points="52.70,398.29 66.81,392.04 85.64,391.41 99.75,388.98 118.57,382.99 132.69,380.57 146.80,372.61 165.62,358.78 179.74,335.32" fill="none" stroke="#0a0a0a" stroke-width="1.4" stroke-linejoin="round"/>
<polygon points="49.70,400.61 55.70,400.61 52.70,394.81" fill="#0a0a0a"/>
<polygon points="63.81,394.36 69.81,394.36 66.81,388.56" fill="#0a0a0a"/>
<polygon points="82.64,393.73 88.64,393.73 85.64,387.93" fill="#0a0a0a"/>
<polygon points="96.75,391.30 102.75,391.30 99.75,385.50" fill="#0a0a0a"/>
<polygon points="115.57,385.31 121.57,385.31 118.57,379.51" fill="#0a0a0a"/>
<polygon points="129.69,382.89 135.69,382.89 132.69,377.09" fill="#0a0a0a"/>
<polygon points="143.80,374.93 149.80,374.93 146.80,369.13" fill="#0a0a0a"/>
<polygon points="162.62,361.10 168.62,361.10 165.62,355.30" fill="#0a0a0a"/>
<polygon points="176.74,337.64 182.74,337.64 179.74,331.84" fill="#0a0a0a"/>
<line x1="99.75" y1="364.96" x2="99.75" y2="375.79" stroke="#0a0a0a" stroke-width="1.2" stroke-linecap="butt"/>
<line x1="96.65" y1="364.96" x2="102.85" y2="364.96" stroke="#0a0a0a" stroke-width="1.2" stroke-linecap="butt"/>
<line x1="96.65" y1="375.79" x2="102.85" y2="375.79" stroke="#0a0a0a" stroke-width="1.2" stroke-linecap="butt"/>
<line x1="118.57" y1="354.19" x2="118.57" y2="366.68" stroke="#0a0a0a" stroke-width="1.2" stroke-linecap="butt"/>
<line x1="115.47" y1="354.19" x2="121.67" y2="354.19" stroke="#0a0a0a" stroke-width="1.2" stroke-linecap="butt"/>
<line x1="115.47" y1="366.68" x2="121.67" y2="366.68" stroke="#0a0a0a" stroke-width="1.2" stroke-linecap="butt"/>
<line x1="132.69" y1="347.24" x2="132.69" y2="358.71" stroke="#0a0a0a" stroke-width="1.2" stroke-linecap="butt"/>
<line x1="129.59" y1="347.24" x2="135.78" y2="347.24" stroke="#0a0a0a" stroke-width="1.2" stroke-linecap="butt"/>
<line x1="129.59" y1="358.71" x2="135.78" y2="358.71" stroke="#0a0a0a" stroke-width="1.2" stroke-linecap="butt"/>
<line x1="146.80" y1="341.82" x2="146.80" y2="351.00" stroke="#0a0a0a" stroke-width="1.2" stroke-linecap="butt"/>
<line x1="143.70" y1="341.82" x2="149.90" y2="341.82" stroke="#0a0a0a" stroke-width="1.2" stroke-linecap="butt"/>
<line x1="143.70" y1="351.00" x2="149.90" y2="351.00" stroke="#0a0a0a" stroke-width="1.2" stroke-linecap="butt"/>
<line x1="165.62" y1="321.11" x2="165.62" y2="334.50" stroke="#0a0a0a" stroke-width="1.2" stroke-linecap="butt"/>
<line x1="162.52" y1="321.11" x2="168.72" y2="321.11" stroke="#0a0a0a" stroke-width="1.2" stroke-linecap="butt"/>
<line x1="162.52" y1="334.50" x2="168.72" y2="334.50" stroke="#0a0a0a" stroke-width="1.2" stroke-linecap="butt"/>
<line x1="179.74" y1="276.37" x2="179.74" y2="300.59" stroke="#0a0a0a" stroke-width="1.2" stroke-linecap="butt"/>
<line x1="176.64" y1="276.37" x2="182.84" y2="276.37" stroke="#0a0a0a" stroke-width="1.2" stroke-linecap="butt"/>
<line x1="176.64" y1="300.59" x2="182.84" y2="300.59" stroke="#0a0a0a" stroke-width="1.2" stroke-linecap="butt"/>
<polyline points="52.70,398.29 66.81,384.52 85.64,379.94 99.75,370.38 118.57,360.43 132.69,352.98 146.80,346.41 165.62,327.80 179.74,288.48" fill="none" stroke="#0a0a0a" stroke-width="1.4" stroke-linejoin="round"/>
<circle cx="52.70" cy="398.29" r="2.60" fill="#0a0a0a"/>
<circle cx="66.81" cy="384.52" r="2.60" fill="#0a0a0a"/>
<circle cx="85.64" cy="379.94" r="2.60" fill="#0a0a0a"/>
<circle cx="99.75" cy="370.38" r="2.60" fill="#0a0a0a"/>
<circle cx="118.57" cy="360.43" r="2.60" fill="#0a0a0a"/>
<circle cx="132.69" cy="352.98" r="2.60" fill="#0a0a0a"/>
<circle cx="146.80" cy="346.41" r="2.60" fill="#0a0a0a"/>
<circle cx="165.62" cy="327.80" r="2.60" fill="#0a0a0a"/>
<circle cx="179.74" cy="288.48" r="2.60" fill="#0a0a0a"/>
<line x1="56.20" y1="271.40" x2="66.60" y2="271.40" stroke="#0a0a0a" stroke-width="1.3" stroke-linecap="butt"/>
<circle cx="61.40" cy="271.40" r="2.60" fill="#0a0a0a"/>
<text x="71.8" y="274.2" font-size="7.6" text-anchor="start" font-weight="bold" fill="#0a0a0a">Vehicle TB1/DB4</text>
<line x1="56.20" y1="282.50" x2="66.60" y2="282.50" stroke="#0a0a0a" stroke-width="1.3" stroke-linecap="butt"/>
<rect x="58.80" y="279.90" width="5.20" height="5.20" fill="#0a0a0a"/>
<text x="71.8" y="285.3" font-size="7.6" text-anchor="start" font-weight="bold" fill="#0a0a0a">BiJ591 i.v. (1 mg/kg daily)</text>
<line x1="56.20" y1="293.60" x2="66.60" y2="293.60" stroke="#0a0a0a" stroke-width="1.3" stroke-linecap="butt"/>
<polygon points="58.40,295.92 64.40,295.92 61.40,290.12" fill="#0a0a0a"/>
<text x="71.8" y="296.4" font-size="7.6" text-anchor="start" font-weight="bold" fill="#0a0a0a">BiJ591 s.c. (15 mg/kg once)</text>
<line x1="56.20" y1="304.70" x2="66.60" y2="304.70" stroke="#0a0a0a" stroke-width="1.3" stroke-linecap="butt"/>
<polygon points="58.40,302.38 64.40,302.38 61.40,308.18" fill="#0a0a0a"/>
<text x="71.8" y="307.5" font-size="7.6" text-anchor="start" font-weight="bold" fill="#0a0a0a">BiJ591-TB1/DB4 (15 mg/kg)</text>
<polyline points="185.50,288.50 189.00,288.50 189.00,360.40 185.50,360.40" fill="none" stroke="#0a0a0a" stroke-width="1.6" stroke-linejoin="miter"/>
<text x="191.2" y="320.4" font-size="10.4" text-anchor="start" font-weight="bold" fill="#0a0a0a" class="st">***</text>
<polyline points="185.50,365.20 189.00,365.20 189.00,382.50 185.50,382.50" fill="none" stroke="#0a0a0a" stroke-width="1.6" stroke-linejoin="miter"/>
<text x="192.4" y="377.9" font-size="10.4" text-anchor="start" font-weight="bold" fill="#0a0a0a" class="st">*</text>
<polyline points="196.30,335.20 199.80,335.20 199.80,382.50 196.30,382.50" fill="none" stroke="#0a0a0a" stroke-width="1.6" stroke-linejoin="miter"/>
<text x="203.0" y="363.9" font-size="10.4" text-anchor="start" font-weight="bold" fill="#0a0a0a" class="st">**</text>
<polyline points="210.50,288.50 214.00,288.50 214.00,382.50 210.50,382.50" fill="none" stroke="#0a0a0a" stroke-width="1.6" stroke-linejoin="miter"/>
<text x="216.8" y="339.7" font-size="10.4" text-anchor="start" font-weight="bold" fill="#0a0a0a" class="st">****</text>
<line x1="52.70" y1="430.00" x2="123.28" y2="430.00" stroke="#e5233b" stroke-width="1.7" stroke-linecap="butt"/>
<line x1="52.70" y1="426.30" x2="52.70" y2="433.10" stroke="#e5233b" stroke-width="1.5" stroke-linecap="butt"/>
<line x1="123.28" y1="426.30" x2="123.28" y2="433.10" stroke="#e5233b" stroke-width="1.5" stroke-linecap="butt"/>
<polygon points="49.90,439.5 52.70,434.8 55.50,439.5" fill="#e5233b"/>
<line x1="52.70" y1="438.50" x2="52.70" y2="442.60" stroke="#e5233b" stroke-width="1.9" stroke-linecap="butt"/>
<text x="60.2" y="442.6" font-size="8.85" text-anchor="start" font-weight="bold" fill="#0a0a0a">Time after first treatment (days)</text>
<line x1="52.60" y1="455.70" x2="52.60" y2="552.10" stroke="#0a0a0a" stroke-width="1.8" stroke-linecap="butt"/>
<line x1="49.00" y1="551.30" x2="195.51" y2="551.30" stroke="#0a0a0a" stroke-width="1.8" stroke-linecap="butt"/>
<line x1="48.90" y1="551.30" x2="52.60" y2="551.30" stroke="#0a0a0a" stroke-width="1.5" stroke-linecap="butt"/>
<text x="47.6" y="554.3" font-size="8.4" text-anchor="end" font-weight="bold" fill="#0a0a0a">0</text>
<line x1="48.90" y1="527.60" x2="52.60" y2="527.60" stroke="#0a0a0a" stroke-width="1.5" stroke-linecap="butt"/>
<text x="47.6" y="530.5999999999999" font-size="8.4" text-anchor="end" font-weight="bold" fill="#0a0a0a">25</text>
<line x1="48.90" y1="503.90" x2="52.60" y2="503.90" stroke="#0a0a0a" stroke-width="1.5" stroke-linecap="butt"/>
<text x="47.6" y="506.9" font-size="8.4" text-anchor="end" font-weight="bold" fill="#0a0a0a">50</text>
<line x1="48.90" y1="480.20" x2="52.60" y2="480.20" stroke="#0a0a0a" stroke-width="1.5" stroke-linecap="butt"/>
<text x="47.6" y="483.2" font-size="8.4" text-anchor="end" font-weight="bold" fill="#0a0a0a">75</text>
<line x1="48.90" y1="456.50" x2="52.60" y2="456.50" stroke="#0a0a0a" stroke-width="1.5" stroke-linecap="butt"/>
<text x="47.6" y="459.5" font-size="8.4" text-anchor="end" font-weight="bold" fill="#0a0a0a">100</text>
<line x1="52.60" y1="551.30" x2="52.60" y2="554.90" stroke="#0a0a0a" stroke-width="1.5" stroke-linecap="butt"/>
<text x="52.6" y="564.0" font-size="8.4" text-anchor="middle" font-weight="bold" fill="#0a0a0a">25</text>
<line x1="76.28" y1="551.30" x2="76.28" y2="554.90" stroke="#0a0a0a" stroke-width="1.5" stroke-linecap="butt"/>
<text x="76.285" y="564.0" font-size="8.4" text-anchor="middle" font-weight="bold" fill="#0a0a0a">30</text>
<line x1="99.97" y1="551.30" x2="99.97" y2="554.90" stroke="#0a0a0a" stroke-width="1.5" stroke-linecap="butt"/>
<text x="99.97" y="564.0" font-size="8.4" text-anchor="middle" font-weight="bold" fill="#0a0a0a">35</text>
<line x1="123.66" y1="551.30" x2="123.66" y2="554.90" stroke="#0a0a0a" stroke-width="1.5" stroke-linecap="butt"/>
<text x="123.655" y="564.0" font-size="8.4" text-anchor="middle" font-weight="bold" fill="#0a0a0a">40</text>
<line x1="147.34" y1="551.30" x2="147.34" y2="554.90" stroke="#0a0a0a" stroke-width="1.5" stroke-linecap="butt"/>
<text x="147.34" y="564.0" font-size="8.4" text-anchor="middle" font-weight="bold" fill="#0a0a0a">45</text>
<line x1="171.03" y1="551.30" x2="171.03" y2="554.90" stroke="#0a0a0a" stroke-width="1.5" stroke-linecap="butt"/>
<text x="171.025" y="564.0" font-size="8.4" text-anchor="middle" font-weight="bold" fill="#0a0a0a">50</text>
<line x1="194.71" y1="551.30" x2="194.71" y2="554.90" stroke="#0a0a0a" stroke-width="1.5" stroke-linecap="butt"/>
<text x="194.71" y="564.0" font-size="8.4" text-anchor="middle" font-weight="bold" fill="#0a0a0a">55</text>
<text x="25.2" y="502.5" font-size="11.5" text-anchor="middle" font-weight="bold" fill="#0a0a0a" transform="rotate(-90 25.2 502.5)">Percent survival</text>
<text x="56.8" y="575.8" font-size="8.85" text-anchor="start" font-weight="bold" fill="#0a0a0a">Time after first treatment (days)</text>
<polyline points="52.60,456.50 97.60,456.50 97.60,470.06 116.55,470.06 116.55,483.61 163.92,483.61 163.92,497.17 182.87,497.17 182.87,510.63 194.71,510.63" fill="none" stroke="#0a0a0a" stroke-width="1.4" stroke-linejoin="miter"/>
<polygon points="94.60,467.74 100.60,467.74 97.60,473.54" fill="#0a0a0a"/>
<polygon points="113.55,481.29 119.55,481.29 116.55,487.09" fill="#0a0a0a"/>
<polygon points="160.92,494.85 166.92,494.85 163.92,500.65" fill="#0a0a0a"/>
<polygon points="179.87,508.31 185.87,508.31 182.87,514.11" fill="#0a0a0a"/>
<polyline points="52.60,456.50 96.65,456.50 96.65,472.33 115.60,472.33 115.60,503.90 129.81,503.90 129.81,519.73 162.97,519.73 162.97,551.30" fill="none" stroke="#0a0a0a" stroke-width="1.4" stroke-linejoin="miter"/>
<rect x="94.05" y="469.73" width="5.20" height="5.20" fill="#0a0a0a"/>
<rect x="113.00" y="501.30" width="5.20" height="5.20" fill="#0a0a0a"/>
<rect x="127.21" y="517.13" width="5.20" height="5.20" fill="#0a0a0a"/>
<rect x="160.37" y="548.70" width="5.20" height="5.20" fill="#0a0a0a"/>
<polyline points="52.60,456.50 62.55,456.50 62.55,472.33 77.23,472.33 77.23,488.07 81.97,488.07 81.97,503.90 91.92,503.90 91.92,519.73 95.71,519.73 95.71,535.47 143.55,535.47 143.55,551.30" fill="none" stroke="#0a0a0a" stroke-width="1.4" stroke-linejoin="miter"/>
<polygon points="59.55,474.65 65.55,474.65 62.55,468.85" fill="#0a0a0a"/>
<polygon points="74.23,490.39 80.23,490.39 77.23,484.59" fill="#0a0a0a"/>
<polygon points="78.97,506.22 84.97,506.22 81.97,500.42" fill="#0a0a0a"/>
<polygon points="88.92,522.05 94.92,522.05 91.92,516.25" fill="#0a0a0a"/>
<polygon points="92.71,537.79 98.71,537.79 95.71,531.99" fill="#0a0a0a"/>
<polygon points="140.55,553.62 146.55,553.62 143.55,547.82" fill="#0a0a0a"/>
<polyline points="52.60,456.50 57.34,456.50 57.34,472.33 62.07,472.33 62.07,535.47 95.23,535.47 95.23,551.30" fill="none" stroke="#0a0a0a" stroke-width="1.4" stroke-linejoin="miter"/>
<circle cx="57.34" cy="472.33" r="2.60" fill="#0a0a0a"/>
<circle cx="62.07" cy="535.47" r="2.60" fill="#0a0a0a"/>
<circle cx="95.23" cy="551.30" r="2.60" fill="#0a0a0a"/>
<text x="301.2" y="265.5" font-size="14" text-anchor="start" font-weight="bold" fill="#0a0a0a">C</text>
<line x1="352.90" y1="269.40" x2="352.90" y2="412.50" stroke="#0a0a0a" stroke-width="1.8" stroke-linecap="butt"/>
<line x1="349.30" y1="411.70" x2="495.70" y2="411.70" stroke="#0a0a0a" stroke-width="1.8" stroke-linecap="butt"/>
<line x1="349.20" y1="411.70" x2="352.90" y2="411.70" stroke="#0a0a0a" stroke-width="1.5" stroke-linecap="butt"/>
<text x="348.0" y="414.3" font-size="8.4" text-anchor="end" font-weight="bold" fill="#0a0a0a">0</text>
<line x1="349.20" y1="397.55" x2="352.90" y2="397.55" stroke="#0a0a0a" stroke-width="1.5" stroke-linecap="butt"/>
<text x="348.0" y="400.15000000000003" font-size="8.4" text-anchor="end" font-weight="bold" fill="#0a0a0a">200</text>
<line x1="349.20" y1="383.40" x2="352.90" y2="383.40" stroke="#0a0a0a" stroke-width="1.5" stroke-linecap="butt"/>
<text x="348.0" y="386.0" font-size="8.4" text-anchor="end" font-weight="bold" fill="#0a0a0a">400</text>
<line x1="349.20" y1="369.25" x2="352.90" y2="369.25" stroke="#0a0a0a" stroke-width="1.5" stroke-linecap="butt"/>
<text x="348.0" y="371.85" font-size="8.4" text-anchor="end" font-weight="bold" fill="#0a0a0a">600</text>
<line x1="349.20" y1="355.10" x2="352.90" y2="355.10" stroke="#0a0a0a" stroke-width="1.5" stroke-linecap="butt"/>
<text x="348.0" y="357.70000000000005" font-size="8.4" text-anchor="end" font-weight="bold" fill="#0a0a0a">800</text>
<line x1="349.20" y1="340.95" x2="352.90" y2="340.95" stroke="#0a0a0a" stroke-width="1.5" stroke-linecap="butt"/>
<text x="348.0" y="343.55" font-size="8.4" text-anchor="end" font-weight="bold" fill="#0a0a0a">1,000</text>
<line x1="349.20" y1="326.80" x2="352.90" y2="326.80" stroke="#0a0a0a" stroke-width="1.5" stroke-linecap="butt"/>
<text x="348.0" y="329.40000000000003" font-size="8.4" text-anchor="end" font-weight="bold" fill="#0a0a0a">1,200</text>
<line x1="349.20" y1="312.65" x2="352.90" y2="312.65" stroke="#0a0a0a" stroke-width="1.5" stroke-linecap="butt"/>
<text x="348.0" y="315.25" font-size="8.4" text-anchor="end" font-weight="bold" fill="#0a0a0a">1,400</text>
<line x1="349.20" y1="298.50" x2="352.90" y2="298.50" stroke="#0a0a0a" stroke-width="1.5" stroke-linecap="butt"/>
<text x="348.0" y="301.1" font-size="8.4" text-anchor="end" font-weight="bold" fill="#0a0a0a">1,600</text>
<line x1="349.20" y1="284.35" x2="352.90" y2="284.35" stroke="#0a0a0a" stroke-width="1.5" stroke-linecap="butt"/>
<text x="348.0" y="286.95000000000005" font-size="8.4" text-anchor="end" font-weight="bold" fill="#0a0a0a">1,800</text>
<line x1="349.20" y1="270.20" x2="352.90" y2="270.20" stroke="#0a0a0a" stroke-width="1.5" stroke-linecap="butt"/>
<text x="348.0" y="272.8" font-size="8.4" text-anchor="end" font-weight="bold" fill="#0a0a0a">2,000</text>
<line x1="352.90" y1="411.70" x2="352.90" y2="415.30" stroke="#0a0a0a" stroke-width="1.5" stroke-linecap="butt"/>
<text x="352.9" y="424.4" font-size="8.4" text-anchor="middle" font-weight="bold" fill="#0a0a0a">0</text>
<line x1="381.30" y1="411.70" x2="381.30" y2="415.30" stroke="#0a0a0a" stroke-width="1.5" stroke-linecap="butt"/>
<text x="381.29999999999995" y="424.4" font-size="8.4" text-anchor="middle" font-weight="bold" fill="#0a0a0a">5</text>
<line x1="409.70" y1="411.70" x2="409.70" y2="415.30" stroke="#0a0a0a" stroke-width="1.5" stroke-linecap="butt"/>
<text x="409.7" y="424.4" font-size="8.4" text-anchor="middle" font-weight="bold" fill="#0a0a0a">10</text>
<line x1="438.10" y1="411.70" x2="438.10" y2="415.30" stroke="#0a0a0a" stroke-width="1.5" stroke-linecap="butt"/>
<text x="438.09999999999997" y="424.4" font-size="8.4" text-anchor="middle" font-weight="bold" fill="#0a0a0a">15</text>
<line x1="466.50" y1="411.70" x2="466.50" y2="415.30" stroke="#0a0a0a" stroke-width="1.5" stroke-linecap="butt"/>
<text x="466.5" y="424.4" font-size="8.4" text-anchor="middle" font-weight="bold" fill="#0a0a0a">20</text>
<line x1="494.90" y1="411.70" x2="494.90" y2="415.30" stroke="#0a0a0a" stroke-width="1.5" stroke-linecap="butt"/>
<text x="494.9" y="424.4" font-size="8.4" text-anchor="middle" font-weight="bold" fill="#0a0a0a">25</text>
<text x="319.2" y="339" font-size="11.5" font-weight="bold" fill="#0a0a0a" text-anchor="middle" transform="rotate(-90 319.2 339)">Tumor volume (mm<tspan font-size="7.5" dy="-4">3</tspan><tspan dy="4">)</tspan></text>
<line x1="438.10" y1="379.08" x2="438.10" y2="386.87" stroke="#0a0a0a" stroke-width="1.2" stroke-linecap="butt"/>
<line x1="435.00" y1="379.08" x2="441.20" y2="379.08" stroke="#0a0a0a" stroke-width="1.2" stroke-linecap="butt"/>
<line x1="435.00" y1="386.87" x2="441.20" y2="386.87" stroke="#0a0a0a" stroke-width="1.2" stroke-linecap="butt"/>
<line x1="455.14" y1="361.54" x2="455.14" y2="376.82" stroke="#0a0a0a" stroke-width="1.2" stroke-linecap="butt"/>
<line x1="452.04" y1="361.54" x2="458.24" y2="361.54" stroke="#0a0a0a" stroke-width="1.2" stroke-linecap="butt"/>
<line x1="452.04" y1="376.82" x2="458.24" y2="376.82" stroke="#0a0a0a" stroke-width="1.2" stroke-linecap="butt"/>
<line x1="472.18" y1="334.44" x2="472.18" y2="362.03" stroke="#0a0a0a" stroke-width="1.2" stroke-linecap="butt"/>
<line x1="469.08" y1="334.44" x2="475.28" y2="334.44" stroke="#0a0a0a" stroke-width="1.2" stroke-linecap="butt"/>
<line x1="469.08" y1="362.03" x2="475.28" y2="362.03" stroke="#0a0a0a" stroke-width="1.2" stroke-linecap="butt"/>
<polyline points="352.90,402.36 369.94,404.55 386.98,403.49 404.02,398.19 421.06,390.76 438.10,382.98 455.14,369.18 472.18,348.24" fill="none" stroke="#0a0a0a" stroke-width="1.4" stroke-linejoin="round"/>
<polygon points="349.90,400.04 355.90,400.04 352.90,405.84" fill="#0a0a0a"/>
<polygon points="366.94,402.23 372.94,402.23 369.94,408.03" fill="#0a0a0a"/>
<polygon points="383.98,401.17 389.98,401.17 386.98,406.97" fill="#0a0a0a"/>
<polygon points="401.02,395.87 407.02,395.87 404.02,401.67" fill="#0a0a0a"/>
<polygon points="418.06,388.44 424.06,388.44 421.06,394.24" fill="#0a0a0a"/>
<polygon points="435.10,380.66 441.10,380.66 438.10,386.46" fill="#0a0a0a"/>
<polygon points="452.14,366.86 458.14,366.86 455.14,372.66" fill="#0a0a0a"/>
<polygon points="469.18,345.92 475.18,345.92 472.18,351.72" fill="#0a0a0a"/>
<line x1="421.06" y1="368.12" x2="421.06" y2="378.73" stroke="#0a0a0a" stroke-width="1.2" stroke-linecap="butt"/>
<line x1="417.96" y1="368.12" x2="424.16" y2="368.12" stroke="#0a0a0a" stroke-width="1.2" stroke-linecap="butt"/>
<line x1="417.96" y1="378.73" x2="424.16" y2="378.73" stroke="#0a0a0a" stroke-width="1.2" stroke-linecap="butt"/>
<line x1="438.10" y1="354.39" x2="438.10" y2="368.26" stroke="#0a0a0a" stroke-width="1.2" stroke-linecap="butt"/>
<line x1="435.00" y1="354.39" x2="441.20" y2="354.39" stroke="#0a0a0a" stroke-width="1.2" stroke-linecap="butt"/>
<line x1="435.00" y1="368.26" x2="441.20" y2="368.26" stroke="#0a0a0a" stroke-width="1.2" stroke-linecap="butt"/>
<line x1="455.14" y1="327.08" x2="455.14" y2="347.18" stroke="#0a0a0a" stroke-width="1.2" stroke-linecap="butt"/>
<line x1="452.04" y1="327.08" x2="458.24" y2="327.08" stroke="#0a0a0a" stroke-width="1.2" stroke-linecap="butt"/>
<line x1="452.04" y1="347.18" x2="458.24" y2="347.18" stroke="#0a0a0a" stroke-width="1.2" stroke-linecap="butt"/>
<line x1="472.18" y1="301.54" x2="472.18" y2="316.75" stroke="#0a0a0a" stroke-width="1.2" stroke-linecap="butt"/>
<line x1="469.08" y1="316.75" x2="475.28" y2="316.75" stroke="#0a0a0a" stroke-width="1.2" stroke-linecap="butt"/>
<polyline points="352.90,402.36 369.94,400.52 386.98,398.40 404.02,392.03 421.06,373.42 438.10,361.33 455.14,337.13 472.18,301.54" fill="none" stroke="#0a0a0a" stroke-width="1.4" stroke-linejoin="round"/>
<rect x="350.30" y="399.76" width="5.20" height="5.20" fill="#0a0a0a"/>
<rect x="367.34" y="397.92" width="5.20" height="5.20" fill="#0a0a0a"/>
<rect x="384.38" y="395.80" width="5.20" height="5.20" fill="#0a0a0a"/>
<rect x="401.42" y="389.43" width="5.20" height="5.20" fill="#0a0a0a"/>
<rect x="418.46" y="370.82" width="5.20" height="5.20" fill="#0a0a0a"/>
<rect x="435.50" y="358.73" width="5.20" height="5.20" fill="#0a0a0a"/>
<rect x="452.54" y="334.53" width="5.20" height="5.20" fill="#0a0a0a"/>
<rect x="469.58" y="298.94" width="5.20" height="5.20" fill="#0a0a0a"/>
<line x1="421.06" y1="358.28" x2="421.06" y2="368.19" stroke="#0a0a0a" stroke-width="1.2" stroke-linecap="butt"/>
<line x1="417.96" y1="358.28" x2="424.16" y2="358.28" stroke="#0a0a0a" stroke-width="1.2" stroke-linecap="butt"/>
<line x1="417.96" y1="368.19" x2="424.16" y2="368.19" stroke="#0a0a0a" stroke-width="1.2" stroke-linecap="butt"/>
<line x1="438.10" y1="339.68" x2="438.10" y2="355.52" stroke="#0a0a0a" stroke-width="1.2" stroke-linecap="butt"/>
<line x1="435.00" y1="339.68" x2="441.20" y2="339.68" stroke="#0a0a0a" stroke-width="1.2" stroke-linecap="butt"/>
<line x1="435.00" y1="355.52" x2="441.20" y2="355.52" stroke="#0a0a0a" stroke-width="1.2" stroke-linecap="butt"/>
<line x1="455.14" y1="302.53" x2="455.14" y2="330.13" stroke="#0a0a0a" stroke-width="1.2" stroke-linecap="butt"/>
<line x1="452.04" y1="302.53" x2="458.24" y2="302.53" stroke="#0a0a0a" stroke-width="1.2" stroke-linecap="butt"/>
<line x1="452.04" y1="330.13" x2="458.24" y2="330.13" stroke="#0a0a0a" stroke-width="1.2" stroke-linecap="butt"/>
<line x1="472.18" y1="275.51" x2="472.18" y2="300.27" stroke="#0a0a0a" stroke-width="1.2" stroke-linecap="butt"/>
<line x1="469.08" y1="275.51" x2="475.28" y2="275.51" stroke="#0a0a0a" stroke-width="1.2" stroke-linecap="butt"/>
<line x1="469.08" y1="300.27" x2="475.28" y2="300.27" stroke="#0a0a0a" stroke-width="1.2" stroke-linecap="butt"/>
<polyline points="352.90,402.36 369.94,392.46 386.98,388.21 404.02,380.85 421.06,363.24 438.10,347.60 455.14,316.33 472.18,287.89" fill="none" stroke="#0a0a0a" stroke-width="1.4" stroke-linejoin="round"/>
<circle cx="352.90" cy="402.36" r="2.60" fill="#0a0a0a"/>
<circle cx="369.94" cy="392.46" r="2.60" fill="#0a0a0a"/>
<circle cx="386.98" cy="388.21" r="2.60" fill="#0a0a0a"/>
<circle cx="404.02" cy="380.85" r="2.60" fill="#0a0a0a"/>
<circle cx="421.06" cy="363.24" r="2.60" fill="#0a0a0a"/>
<circle cx="438.10" cy="347.60" r="2.60" fill="#0a0a0a"/>
<circle cx="455.14" cy="316.33" r="2.60" fill="#0a0a0a"/>
<circle cx="472.18" cy="287.89" r="2.60" fill="#0a0a0a"/>
<line x1="356.60" y1="269.90" x2="367.80" y2="269.90" stroke="#0a0a0a" stroke-width="1.3" stroke-linecap="butt"/>
<circle cx="362.10" cy="269.90" r="2.60" fill="#0a0a0a"/>
<text x="373.7" y="272.5" font-size="6.9" text-anchor="start" font-weight="bold" fill="#0a0a0a">Vehicle TB1/DB4</text>
<line x1="356.60" y1="281.05" x2="367.80" y2="281.05" stroke="#0a0a0a" stroke-width="1.3" stroke-linecap="butt"/>
<rect x="359.50" y="278.45" width="5.20" height="5.20" fill="#0a0a0a"/>
<text x="373.7" y="283.65" font-size="6.9" text-anchor="start" font-weight="bold" fill="#0a0a0a">BiJ591 i.v. (1 mg/kg daily)</text>
<line x1="356.60" y1="292.20" x2="367.80" y2="292.20" stroke="#0a0a0a" stroke-width="1.3" stroke-linecap="butt"/>
<polygon points="359.10,289.88 365.10,289.88 362.10,295.68" fill="#0a0a0a"/>
<text x="373.7" y="294.8" font-size="6.9" text-anchor="start" font-weight="bold" fill="#0a0a0a">BiJ591-TB1/DB4 (15 mg/kg)</text>
<polyline points="479.30,287.20 482.80,287.20 482.80,299.00 479.30,299.00" fill="none" stroke="#0a0a0a" stroke-width="1.6" stroke-linejoin="miter"/>
<text x="484.6" y="295.4" font-size="8.6" text-anchor="start" font-weight="bold" fill="#0a0a0a">n.s.</text>
<polyline points="479.30,303.20 482.80,303.20 482.80,347.40 479.30,347.40" fill="none" stroke="#0a0a0a" stroke-width="1.6" stroke-linejoin="miter"/>
<text x="485.6" y="333.9" font-size="10.4" text-anchor="start" font-weight="bold" fill="#0a0a0a" class="st">*</text>
<polyline points="501.80,287.20 505.30,287.20 505.30,347.40 501.80,347.40" fill="none" stroke="#0a0a0a" stroke-width="1.6" stroke-linejoin="miter"/>
<text x="507.4" y="326.9" font-size="10.4" text-anchor="start" font-weight="bold" fill="#0a0a0a" class="st">***</text>
<line x1="352.90" y1="430.00" x2="438.10" y2="430.00" stroke="#e5233b" stroke-width="1.7" stroke-linecap="butt"/>
<line x1="352.90" y1="426.30" x2="352.90" y2="433.10" stroke="#e5233b" stroke-width="1.5" stroke-linecap="butt"/>
<line x1="438.10" y1="426.30" x2="438.10" y2="433.10" stroke="#e5233b" stroke-width="1.5" stroke-linecap="butt"/>
<polygon points="350.10,439.5 352.90,434.8 355.70,439.5" fill="#e5233b"/>
<line x1="352.90" y1="438.50" x2="352.90" y2="442.60" stroke="#e5233b" stroke-width="1.9" stroke-linecap="butt"/>
<text x="360.4" y="442.6" font-size="8.85" text-anchor="start" font-weight="bold" fill="#0a0a0a">Time after first treatment (days)</text>
<line x1="352.90" y1="455.70" x2="352.90" y2="552.10" stroke="#0a0a0a" stroke-width="1.8" stroke-linecap="butt"/>
<line x1="349.30" y1="551.30" x2="494.90" y2="551.30" stroke="#0a0a0a" stroke-width="1.8" stroke-linecap="butt"/>
<line x1="349.20" y1="551.30" x2="352.90" y2="551.30" stroke="#0a0a0a" stroke-width="1.5" stroke-linecap="butt"/>
<text x="347.9" y="554.3" font-size="8.4" text-anchor="end" font-weight="bold" fill="#0a0a0a">0</text>
<line x1="349.20" y1="527.60" x2="352.90" y2="527.60" stroke="#0a0a0a" stroke-width="1.5" stroke-linecap="butt"/>
<text x="347.9" y="530.5999999999999" font-size="8.4" text-anchor="end" font-weight="bold" fill="#0a0a0a">25</text>
<line x1="349.20" y1="503.90" x2="352.90" y2="503.90" stroke="#0a0a0a" stroke-width="1.5" stroke-linecap="butt"/>
<text x="347.9" y="506.9" font-size="8.4" text-anchor="end" font-weight="bold" fill="#0a0a0a">50</text>
<line x1="349.20" y1="480.20" x2="352.90" y2="480.20" stroke="#0a0a0a" stroke-width="1.5" stroke-linecap="butt"/>
<text x="347.9" y="483.2" font-size="8.4" text-anchor="end" font-weight="bold" fill="#0a0a0a">75</text>
<line x1="349.20" y1="456.50" x2="352.90" y2="456.50" stroke="#0a0a0a" stroke-width="1.5" stroke-linecap="butt"/>
<text x="347.9" y="459.5" font-size="8.4" text-anchor="end" font-weight="bold" fill="#0a0a0a">100</text>
<line x1="352.90" y1="551.30" x2="352.90" y2="554.90" stroke="#0a0a0a" stroke-width="1.5" stroke-linecap="butt"/>
<text x="352.9" y="564.0" font-size="8.4" text-anchor="middle" font-weight="bold" fill="#0a0a0a">15</text>
<line x1="370.55" y1="551.30" x2="370.55" y2="554.90" stroke="#0a0a0a" stroke-width="1.5" stroke-linecap="butt"/>
<text x="370.54999999999995" y="564.0" font-size="8.4" text-anchor="middle" font-weight="bold" fill="#0a0a0a">20</text>
<line x1="388.20" y1="551.30" x2="388.20" y2="554.90" stroke="#0a0a0a" stroke-width="1.5" stroke-linecap="butt"/>
<text x="388.2" y="564.0" font-size="8.4" text-anchor="middle" font-weight="bold" fill="#0a0a0a">25</text>
<line x1="405.85" y1="551.30" x2="405.85" y2="554.90" stroke="#0a0a0a" stroke-width="1.5" stroke-linecap="butt"/>
<text x="405.84999999999997" y="564.0" font-size="8.4" text-anchor="middle" font-weight="bold" fill="#0a0a0a">30</text>
<line x1="423.50" y1="551.30" x2="423.50" y2="554.90" stroke="#0a0a0a" stroke-width="1.5" stroke-linecap="butt"/>
<text x="423.5" y="564.0" font-size="8.4" text-anchor="middle" font-weight="bold" fill="#0a0a0a">35</text>
<line x1="441.15" y1="551.30" x2="441.15" y2="554.90" stroke="#0a0a0a" stroke-width="1.5" stroke-linecap="butt"/>
<text x="441.15" y="564.0" font-size="8.4" text-anchor="middle" font-weight="bold" fill="#0a0a0a">40</text>
<line x1="458.80" y1="551.30" x2="458.80" y2="554.90" stroke="#0a0a0a" stroke-width="1.5" stroke-linecap="butt"/>
<text x="458.79999999999995" y="564.0" font-size="8.4" text-anchor="middle" font-weight="bold" fill="#0a0a0a">45</text>
<line x1="476.45" y1="551.30" x2="476.45" y2="554.90" stroke="#0a0a0a" stroke-width="1.5" stroke-linecap="butt"/>
<text x="476.45" y="564.0" font-size="8.4" text-anchor="middle" font-weight="bold" fill="#0a0a0a">50</text>
<line x1="494.10" y1="551.30" x2="494.10" y2="554.90" stroke="#0a0a0a" stroke-width="1.5" stroke-linecap="butt"/>
<text x="494.09999999999997" y="564.0" font-size="8.4" text-anchor="middle" font-weight="bold" fill="#0a0a0a">55</text>
<text x="325.4" y="502.5" font-size="11.5" text-anchor="middle" font-weight="bold" fill="#0a0a0a" transform="rotate(-90 325.4 502.5)">Percent survival</text>
<text x="357.4" y="575.8" font-size="8.85" text-anchor="start" font-weight="bold" fill="#0a0a0a">Time after first treatment (days)</text>
<polyline points="352.90,456.50 374.79,456.50 374.79,468.35 406.56,468.35 406.56,480.20 420.68,480.20 420.68,492.05 438.33,492.05 438.33,503.90 442.21,503.90 442.21,515.75 448.92,515.75 448.92,527.60 452.45,527.60 452.45,539.45 459.86,539.45 459.86,551.30" fill="none" stroke="#0a0a0a" stroke-width="1.4" stroke-linejoin="miter"/>
<polygon points="371.79,466.03 377.79,466.03 374.79,471.83" fill="#0a0a0a"/>
<polygon points="403.56,477.88 409.56,477.88 406.56,483.68" fill="#0a0a0a"/>
<polygon points="417.68,489.73 423.68,489.73 420.68,495.53" fill="#0a0a0a"/>
<polygon points="435.33,501.58 441.33,501.58 438.33,507.38" fill="#0a0a0a"/>
<polygon points="439.21,513.43 445.21,513.43 442.21,519.23" fill="#0a0a0a"/>
<polygon points="445.92,525.28 451.92,525.28 448.92,531.08" fill="#0a0a0a"/>
<polygon points="449.45,537.13 455.45,537.13 452.45,542.93" fill="#0a0a0a"/>
<polygon points="456.86,548.98 462.86,548.98 459.86,554.78" fill="#0a0a0a"/>
<polyline points="352.90,456.50 368.43,456.50 368.43,480.20 379.73,480.20 379.73,492.05 383.26,492.05 383.26,503.90 386.79,503.90 386.79,515.75 393.50,515.75 393.50,527.60 411.14,527.60 411.14,539.45 414.67,539.45 414.67,551.30" fill="none" stroke="#0a0a0a" stroke-width="1.4" stroke-linejoin="miter"/>
<rect x="365.83" y="477.60" width="5.20" height="5.20" fill="#0a0a0a"/>
<rect x="377.13" y="489.45" width="5.20" height="5.20" fill="#0a0a0a"/>
<rect x="380.66" y="501.30" width="5.20" height="5.20" fill="#0a0a0a"/>
<rect x="384.19" y="513.15" width="5.20" height="5.20" fill="#0a0a0a"/>
<rect x="390.89" y="525.00" width="5.20" height="5.20" fill="#0a0a0a"/>
<rect x="408.54" y="536.85" width="5.20" height="5.20" fill="#0a0a0a"/>
<rect x="412.07" y="548.70" width="5.20" height="5.20" fill="#0a0a0a"/>
<polyline points="352.90,456.50 360.31,456.50 360.31,480.20 370.55,480.20 370.55,492.05 374.08,492.05 374.08,503.90 377.61,503.90 377.61,515.75 385.02,515.75 385.02,527.60 391.73,527.60 391.73,539.45 395.26,539.45 395.26,551.30" fill="none" stroke="#0a0a0a" stroke-width="1.4" stroke-linejoin="miter"/>
<circle cx="360.31" cy="480.20" r="2.60" fill="#0a0a0a"/>
<circle cx="370.55" cy="492.05" r="2.60" fill="#0a0a0a"/>
<circle cx="374.08" cy="503.90" r="2.60" fill="#0a0a0a"/>
<circle cx="377.61" cy="515.75" r="2.60" fill="#0a0a0a"/>
<circle cx="385.02" cy="527.60" r="2.60" fill="#0a0a0a"/>
<circle cx="391.73" cy="539.45" r="2.60" fill="#0a0a0a"/>
<circle cx="395.26" cy="551.30" r="2.60" fill="#0a0a0a"/>
</svg>
</body></html>
